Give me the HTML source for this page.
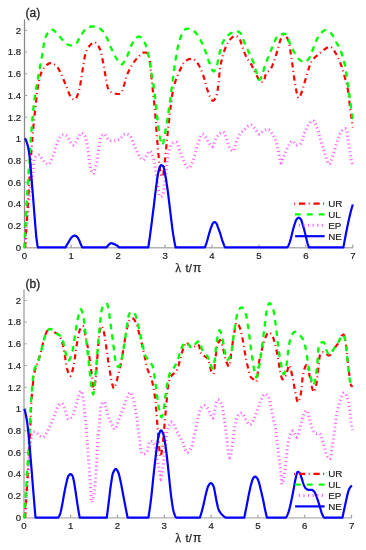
<!DOCTYPE html>
<html><head><meta charset="utf-8"><style>
html,body{margin:0;padding:0;background:#fff;}
body{width:366px;height:550px;overflow:hidden;}
svg{display:block;}
.tk{font-family:"Liberation Sans",Arial,sans-serif;font-size:9.6px;fill:#222;stroke:#222;stroke-width:0.2px;}
.lg{font-family:"Liberation Sans",Arial,sans-serif;font-size:9.8px;fill:#222;stroke:#222;stroke-width:0.2px;}
.xl{font-family:"Liberation Sans",Arial,sans-serif;font-size:11px;fill:#222;stroke:#222;stroke-width:0.25px;}
.gr{font-family:"Liberation Serif","Times New Roman",serif;font-size:12px;}
.pi{font-family:"Liberation Sans",sans-serif;font-size:12px;}
.pl{font-family:"Liberation Sans",Arial,sans-serif;font-size:12px;fill:#222;stroke:#222;stroke-width:0.3px;}
</style></head><body>
<svg width="366" height="550" viewBox="0 0 366 550">
<rect width="366" height="550" fill="#fff"/>
<line x1="24.5" y1="19.4" x2="24.5" y2="247.8" stroke="#8a8a8a" stroke-width="1.3"/>
<line x1="23.9" y1="247.7" x2="353.2" y2="247.7" stroke="#b0b0b0" stroke-width="1.4"/>
<line x1="24.5" y1="247.40" x2="27.3" y2="247.40" stroke="#a0a0a0" stroke-width="1"/>
<text x="21.2" y="250.70" text-anchor="end" class="tk">0</text>
<line x1="24.5" y1="225.70" x2="27.3" y2="225.70" stroke="#a0a0a0" stroke-width="1"/>
<text x="21.2" y="229.00" text-anchor="end" class="tk">0.2</text>
<line x1="24.5" y1="204.00" x2="27.3" y2="204.00" stroke="#a0a0a0" stroke-width="1"/>
<text x="21.2" y="207.30" text-anchor="end" class="tk">0.4</text>
<line x1="24.5" y1="182.30" x2="27.3" y2="182.30" stroke="#a0a0a0" stroke-width="1"/>
<text x="21.2" y="185.60" text-anchor="end" class="tk">0.6</text>
<line x1="24.5" y1="160.60" x2="27.3" y2="160.60" stroke="#a0a0a0" stroke-width="1"/>
<text x="21.2" y="163.90" text-anchor="end" class="tk">0.8</text>
<line x1="24.5" y1="138.90" x2="27.3" y2="138.90" stroke="#a0a0a0" stroke-width="1"/>
<text x="21.2" y="142.20" text-anchor="end" class="tk">1</text>
<line x1="24.5" y1="117.20" x2="27.3" y2="117.20" stroke="#a0a0a0" stroke-width="1"/>
<text x="21.2" y="120.50" text-anchor="end" class="tk">1.2</text>
<line x1="24.5" y1="95.50" x2="27.3" y2="95.50" stroke="#a0a0a0" stroke-width="1"/>
<text x="21.2" y="98.80" text-anchor="end" class="tk">1.4</text>
<line x1="24.5" y1="73.80" x2="27.3" y2="73.80" stroke="#a0a0a0" stroke-width="1"/>
<text x="21.2" y="77.10" text-anchor="end" class="tk">1.6</text>
<line x1="24.5" y1="52.10" x2="27.3" y2="52.10" stroke="#a0a0a0" stroke-width="1"/>
<text x="21.2" y="55.40" text-anchor="end" class="tk">1.8</text>
<line x1="24.5" y1="30.40" x2="27.3" y2="30.40" stroke="#a0a0a0" stroke-width="1"/>
<text x="21.2" y="33.70" text-anchor="end" class="tk">2</text>
<line x1="24.30" y1="247.4" x2="24.30" y2="244.6" stroke="#909090" stroke-width="1"/>
<text x="24.30" y="258.80" text-anchor="middle" class="tk">0</text>
<line x1="71.23" y1="247.4" x2="71.23" y2="244.6" stroke="#909090" stroke-width="1"/>
<text x="71.23" y="258.80" text-anchor="middle" class="tk">1</text>
<line x1="118.16" y1="247.4" x2="118.16" y2="244.6" stroke="#909090" stroke-width="1"/>
<text x="118.16" y="258.80" text-anchor="middle" class="tk">2</text>
<line x1="165.09" y1="247.4" x2="165.09" y2="244.6" stroke="#909090" stroke-width="1"/>
<text x="165.09" y="258.80" text-anchor="middle" class="tk">3</text>
<line x1="212.02" y1="247.4" x2="212.02" y2="244.6" stroke="#909090" stroke-width="1"/>
<text x="212.02" y="258.80" text-anchor="middle" class="tk">4</text>
<line x1="258.95" y1="247.4" x2="258.95" y2="244.6" stroke="#909090" stroke-width="1"/>
<text x="258.95" y="258.80" text-anchor="middle" class="tk">5</text>
<line x1="305.88" y1="247.4" x2="305.88" y2="244.6" stroke="#909090" stroke-width="1"/>
<text x="305.88" y="258.80" text-anchor="middle" class="tk">6</text>
<line x1="352.81" y1="247.4" x2="352.81" y2="244.6" stroke="#909090" stroke-width="1"/>
<text x="352.81" y="258.80" text-anchor="middle" class="tk">7</text>
<path d="M24.80 247.40 L25.13 243.34 L25.46 239.25 L25.78 235.16 L26.11 231.07 L26.44 227.00 L26.77 222.96 L27.13 218.95 L27.50 215.00 L27.87 211.28 L28.25 207.52 L28.65 203.78 L29.05 200.07 L29.46 196.43 L29.87 192.90 L30.29 189.51 L30.70 186.30 L31.03 183.93 L31.38 181.62 L31.73 179.37 L32.08 177.20 L32.42 175.11 L32.75 173.09 L33.04 171.15 L33.30 169.30 L33.44 167.98 L33.54 166.69 L33.62 165.44 L33.69 164.23 L33.77 163.07 L33.89 161.98 L34.06 160.95 L34.30 160.00 L34.51 159.35 L34.74 158.71 L34.99 158.10 L35.26 157.53 L35.55 157.00 L35.87 156.52 L36.22 156.12 L36.60 155.80 L36.95 155.59 L37.34 155.41 L37.76 155.26 L38.19 155.17 L38.62 155.11 L39.05 155.12 L39.44 155.18 L39.80 155.30 L40.18 155.57 L40.51 155.97 L40.82 156.48 L41.10 157.06 L41.37 157.67 L41.66 158.29 L41.96 158.88 L42.30 159.40 L42.67 159.89 L43.06 160.39 L43.45 160.89 L43.86 161.37 L44.28 161.84 L44.71 162.27 L45.15 162.66 L45.60 163.00 L46.00 163.27 L46.42 163.54 L46.85 163.80 L47.29 164.03 L47.73 164.21 L48.14 164.33 L48.54 164.36 L48.90 164.30 L49.27 164.08 L49.61 163.72 L49.92 163.25 L50.21 162.70 L50.49 162.09 L50.76 161.45 L51.02 160.81 L51.30 160.20 L51.64 159.47 L51.96 158.71 L52.28 157.92 L52.60 157.11 L52.91 156.27 L53.21 155.42 L53.51 154.57 L53.80 153.70 L54.11 152.72 L54.40 151.71 L54.68 150.68 L54.96 149.63 L55.24 148.58 L55.54 147.53 L55.85 146.50 L56.20 145.50 L56.56 144.52 L56.93 143.53 L57.32 142.53 L57.72 141.55 L58.13 140.60 L58.57 139.69 L59.02 138.86 L59.50 138.10 L59.88 137.56 L60.27 137.03 L60.67 136.53 L61.08 136.06 L61.50 135.64 L61.93 135.28 L62.36 135.00 L62.80 134.80 L63.15 134.71 L63.52 134.67 L63.89 134.67 L64.26 134.71 L64.64 134.79 L65.00 134.90 L65.36 135.04 L65.70 135.20 L66.09 135.43 L66.46 135.71 L66.82 136.04 L67.18 136.41 L67.52 136.81 L67.86 137.23 L68.18 137.66 L68.50 138.10 L68.85 138.65 L69.17 139.27 L69.46 139.93 L69.75 140.61 L70.04 141.28 L70.34 141.92 L70.66 142.50 L71.00 143.00 L71.28 143.35 L71.57 143.70 L71.87 144.05 L72.18 144.36 L72.49 144.63 L72.80 144.84 L73.10 144.97 L73.40 145.00 L73.72 144.91 L74.04 144.69 L74.36 144.38 L74.68 144.00 L75.00 143.56 L75.31 143.10 L75.61 142.64 L75.90 142.20 L76.24 141.66 L76.56 141.08 L76.88 140.46 L77.18 139.82 L77.48 139.17 L77.78 138.53 L78.09 137.90 L78.40 137.30 L78.69 136.72 L78.96 136.10 L79.23 135.45 L79.51 134.83 L79.79 134.26 L80.10 133.77 L80.43 133.41 L80.80 133.20 L81.17 133.15 L81.58 133.20 L82.01 133.33 L82.46 133.53 L82.91 133.79 L83.34 134.10 L83.74 134.44 L84.10 134.80 L84.54 135.37 L84.92 136.06 L85.26 136.84 L85.57 137.69 L85.85 138.59 L86.11 139.52 L86.35 140.47 L86.60 141.40 L86.87 142.51 L87.11 143.67 L87.32 144.86 L87.50 146.08 L87.68 147.33 L87.85 148.61 L88.02 149.90 L88.20 151.20 L88.40 152.73 L88.57 154.32 L88.73 155.96 L88.89 157.61 L89.06 159.26 L89.26 160.89 L89.50 162.48 L89.80 164.00 L90.12 165.44 L90.48 167.04 L90.87 168.69 L91.29 170.28 L91.72 171.70 L92.15 172.85 L92.58 173.62 L93.00 173.90 L93.43 173.61 L93.87 172.81 L94.33 171.62 L94.78 170.14 L95.22 168.49 L95.64 166.78 L96.04 165.11 L96.40 163.60 L96.76 162.00 L97.07 160.33 L97.34 158.63 L97.60 156.89 L97.84 155.15 L98.08 153.41 L98.33 151.69 L98.60 150.00 L98.85 148.35 L99.07 146.63 L99.27 144.89 L99.49 143.18 L99.74 141.53 L100.04 140.01 L100.42 138.65 L100.90 137.50 L101.25 136.87 L101.65 136.25 L102.08 135.67 L102.52 135.14 L102.98 134.70 L103.43 134.36 L103.88 134.16 L104.30 134.10 L104.73 134.27 L105.16 134.67 L105.57 135.25 L105.98 135.94 L106.39 136.68 L106.81 137.41 L107.25 138.07 L107.70 138.60 L108.10 138.97 L108.50 139.34 L108.90 139.68 L109.31 140.00 L109.74 140.29 L110.18 140.54 L110.63 140.75 L111.10 140.90 L111.63 141.00 L112.18 141.04 L112.76 141.03 L113.35 140.97 L113.95 140.88 L114.54 140.77 L115.13 140.64 L115.70 140.50 L116.28 140.35 L116.85 140.18 L117.42 139.98 L117.99 139.76 L118.56 139.52 L119.11 139.24 L119.66 138.94 L120.20 138.60 L120.80 138.11 L121.37 137.50 L121.94 136.82 L122.49 136.11 L123.05 135.44 L123.61 134.84 L124.19 134.38 L124.80 134.10 L125.34 133.99 L125.91 133.96 L126.50 134.00 L127.09 134.11 L127.67 134.29 L128.24 134.53 L128.79 134.84 L129.30 135.20 L130.00 135.91 L130.63 136.83 L131.22 137.93 L131.77 139.15 L132.31 140.45 L132.83 141.77 L133.36 143.07 L133.90 144.30 L134.47 145.57 L135.02 146.88 L135.55 148.23 L136.09 149.57 L136.63 150.90 L137.19 152.18 L137.78 153.39 L138.40 154.50 L138.94 155.40 L139.51 156.36 L140.10 157.31 L140.69 158.21 L141.29 159.01 L141.88 159.64 L142.46 160.06 L143.00 160.20 L143.45 160.06 L143.89 159.70 L144.32 159.17 L144.74 158.51 L145.15 157.78 L145.57 157.04 L145.98 156.33 L146.40 155.70 L146.83 155.06 L147.26 154.33 L147.69 153.55 L148.12 152.80 L148.55 152.12 L148.97 151.57 L149.39 151.21 L149.80 151.10 L150.28 151.31 L150.76 151.84 L151.25 152.61 L151.72 153.57 L152.18 154.65 L152.62 155.79 L153.03 156.93 L153.40 158.00 L153.81 159.35 L154.16 160.80 L154.46 162.32 L154.73 163.90 L154.97 165.52 L155.20 167.17 L155.44 168.84 L155.70 170.50 L156.00 172.42 L156.29 174.42 L156.56 176.48 L156.84 178.55 L157.12 180.61 L157.40 182.63 L157.69 184.57 L158.00 186.40 L158.24 187.90 L158.45 189.50 L158.66 191.13 L158.88 192.69 L159.12 194.10 L159.41 195.27 L159.77 196.14 L160.20 196.60 L160.45 196.68 L160.74 196.68 L161.04 196.61 L161.35 196.48 L161.66 196.30 L161.96 196.07 L162.24 195.80 L162.50 195.50 L163.00 194.55 L163.39 193.22 L163.69 191.59 L163.94 189.75 L164.15 187.77 L164.35 185.73 L164.56 183.71 L164.80 181.80 L165.09 179.63 L165.37 177.37 L165.64 175.05 L165.90 172.70 L166.16 170.34 L166.43 168.02 L166.71 165.76 L167.00 163.60 L167.25 161.77 L167.49 159.94 L167.72 158.13 L167.96 156.35 L168.23 154.64 L168.53 152.99 L168.88 151.44 L169.30 150.00 L169.64 148.97 L170.01 147.96 L170.39 146.98 L170.80 146.05 L171.23 145.19 L171.69 144.41 L172.18 143.74 L172.70 143.20 L173.09 142.88 L173.51 142.58 L173.95 142.32 L174.41 142.11 L174.86 141.96 L175.30 141.88 L175.71 141.89 L176.10 142.00 L176.64 142.42 L177.11 143.14 L177.55 144.10 L177.95 145.21 L178.33 146.43 L178.71 147.68 L179.10 148.89 L179.50 150.00 L179.94 151.12 L180.37 152.26 L180.80 153.43 L181.23 154.60 L181.66 155.77 L182.10 156.91 L182.55 158.03 L183.00 159.10 L183.41 160.03 L183.83 160.97 L184.25 161.91 L184.68 162.82 L185.11 163.69 L185.54 164.50 L185.97 165.25 L186.40 165.90 L186.67 166.30 L186.94 166.71 L187.21 167.10 L187.48 167.46 L187.75 167.77 L188.03 168.01 L188.31 168.16 L188.60 168.20 L189.01 168.06 L189.43 167.73 L189.87 167.24 L190.32 166.62 L190.76 165.91 L191.19 165.14 L191.61 164.36 L192.00 163.60 L192.52 162.45 L192.99 161.17 L193.44 159.77 L193.86 158.30 L194.27 156.79 L194.67 155.26 L195.08 153.75 L195.50 152.30 L195.92 150.86 L196.34 149.38 L196.74 147.89 L197.15 146.40 L197.56 144.94 L197.99 143.53 L198.43 142.17 L198.90 140.90 L199.29 139.87 L199.68 138.77 L200.09 137.66 L200.50 136.60 L200.93 135.66 L201.37 134.88 L201.82 134.35 L202.30 134.10 L202.70 134.14 L203.12 134.37 L203.55 134.74 L203.99 135.23 L204.43 135.78 L204.87 136.37 L205.29 136.96 L205.70 137.50 L206.15 138.14 L206.58 138.84 L206.99 139.58 L207.40 140.35 L207.81 141.12 L208.22 141.86 L208.65 142.56 L209.10 143.20 L209.51 143.74 L209.93 144.33 L210.37 144.92 L210.82 145.48 L211.26 145.97 L211.69 146.34 L212.11 146.57 L212.50 146.60 L212.98 146.27 L213.42 145.55 L213.83 144.54 L214.23 143.33 L214.62 142.04 L215.02 140.75 L215.44 139.57 L215.90 138.60 L216.29 137.94 L216.69 137.31 L217.09 136.70 L217.51 136.12 L217.94 135.56 L218.38 135.04 L218.83 134.55 L219.30 134.10 L219.74 133.69 L220.20 133.27 L220.68 132.84 L221.17 132.45 L221.65 132.12 L222.13 131.89 L222.58 131.77 L223.00 131.80 L223.51 132.11 L223.98 132.69 L224.42 133.48 L224.83 134.43 L225.23 135.47 L225.62 136.55 L226.00 137.62 L226.40 138.60 L226.84 139.70 L227.24 140.89 L227.64 142.12 L228.02 143.37 L228.42 144.59 L228.84 145.74 L229.30 146.79 L229.80 147.70 L230.19 148.30 L230.61 148.92 L231.05 149.52 L231.50 150.07 L231.95 150.53 L232.39 150.88 L232.81 151.08 L233.20 151.10 L233.72 150.69 L234.18 149.78 L234.59 148.52 L234.98 147.00 L235.36 145.36 L235.75 143.72 L236.16 142.19 L236.60 140.90 L236.99 139.96 L237.38 139.04 L237.77 138.15 L238.17 137.28 L238.59 136.44 L239.03 135.63 L239.50 134.85 L240.00 134.10 L240.49 133.45 L241.01 132.83 L241.55 132.25 L242.11 131.68 L242.68 131.14 L243.28 130.59 L243.88 130.05 L244.50 129.50 L245.20 128.83 L245.94 128.08 L246.71 127.29 L247.49 126.53 L248.28 125.85 L249.05 125.29 L249.79 124.93 L250.50 124.80 L251.08 124.90 L251.64 125.17 L252.18 125.58 L252.72 126.08 L253.25 126.64 L253.77 127.24 L254.28 127.84 L254.80 128.40 L255.38 129.10 L255.94 129.94 L256.49 130.86 L257.03 131.77 L257.58 132.63 L258.13 133.35 L258.71 133.86 L259.30 134.10 L259.84 134.04 L260.40 133.76 L260.97 133.31 L261.54 132.76 L262.12 132.17 L262.71 131.58 L263.30 131.08 L263.90 130.70 L264.45 130.43 L265.02 130.16 L265.60 129.90 L266.18 129.67 L266.75 129.50 L267.32 129.40 L267.87 129.39 L268.40 129.50 L269.04 129.82 L269.66 130.32 L270.27 130.98 L270.86 131.75 L271.43 132.59 L271.98 133.48 L272.50 134.36 L273.00 135.20 L273.51 136.11 L274.00 137.05 L274.45 138.03 L274.88 139.04 L275.29 140.06 L275.68 141.10 L276.05 142.15 L276.40 143.20 L276.74 144.29 L277.04 145.40 L277.32 146.52 L277.58 147.65 L277.83 148.80 L278.08 149.95 L278.33 151.12 L278.60 152.30 L278.89 153.74 L279.17 155.40 L279.44 157.17 L279.72 158.90 L280.00 160.48 L280.31 161.77 L280.64 162.66 L281.00 163.00 L281.34 162.81 L281.69 162.23 L282.07 161.35 L282.45 160.26 L282.85 159.04 L283.26 157.78 L283.68 156.58 L284.10 155.50 L284.57 154.38 L285.05 153.22 L285.54 152.03 L286.05 150.83 L286.56 149.64 L287.09 148.50 L287.64 147.41 L288.20 146.40 L288.68 145.56 L289.17 144.68 L289.67 143.79 L290.19 142.95 L290.71 142.20 L291.23 141.59 L291.77 141.18 L292.30 141.00 L292.79 141.13 L293.29 141.53 L293.78 142.13 L294.29 142.83 L294.80 143.55 L295.32 144.21 L295.85 144.72 L296.40 145.00 L296.90 145.08 L297.42 145.08 L297.95 145.01 L298.49 144.88 L299.03 144.68 L299.55 144.41 L300.04 144.09 L300.50 143.70 L301.17 142.85 L301.74 141.70 L302.25 140.33 L302.72 138.82 L303.17 137.24 L303.61 135.66 L304.08 134.15 L304.60 132.80 L305.08 131.69 L305.57 130.57 L306.05 129.47 L306.55 128.40 L307.06 127.37 L307.58 126.38 L308.13 125.45 L308.70 124.60 L309.18 123.92 L309.69 123.21 L310.21 122.50 L310.74 121.85 L311.27 121.27 L311.80 120.83 L312.31 120.56 L312.80 120.50 L313.35 120.73 L313.90 121.25 L314.43 122.01 L314.95 122.94 L315.46 123.99 L315.96 125.10 L316.44 126.23 L316.90 127.30 L317.49 128.76 L318.04 130.36 L318.55 132.06 L319.05 133.83 L319.53 135.64 L320.01 137.46 L320.50 139.25 L321.00 141.00 L321.51 142.72 L322.01 144.46 L322.51 146.22 L323.01 147.96 L323.52 149.69 L324.03 151.38 L324.56 153.02 L325.10 154.60 L325.58 156.02 L326.07 157.58 L326.56 159.18 L327.07 160.72 L327.57 162.09 L328.08 163.19 L328.59 163.93 L329.10 164.20 L329.61 163.93 L330.13 163.20 L330.65 162.09 L331.18 160.72 L331.70 159.18 L332.21 157.58 L332.71 156.02 L333.20 154.60 L333.74 153.01 L334.26 151.32 L334.76 149.58 L335.25 147.80 L335.74 146.02 L336.24 144.28 L336.76 142.59 L337.30 141.00 L337.77 139.66 L338.23 138.31 L338.70 136.97 L339.18 135.66 L339.68 134.42 L340.21 133.28 L340.78 132.27 L341.40 131.40 L341.87 130.86 L342.39 130.32 L342.94 129.81 L343.50 129.35 L344.05 128.99 L344.58 128.74 L345.07 128.63 L345.50 128.70 L346.08 129.25 L346.54 130.32 L346.92 131.78 L347.24 133.53 L347.51 135.44 L347.76 137.40 L348.02 139.29 L348.30 141.00 L348.60 142.67 L348.88 144.38 L349.13 146.11 L349.38 147.85 L349.62 149.58 L349.87 151.29 L350.13 152.97 L350.40 154.60 L350.66 156.02 L350.93 157.41 L351.20 158.78 L351.48 160.13 L351.76 161.47 L352.04 162.80 L352.32 164.15 L352.60 165.50" fill="none" stroke="#ff62ff" stroke-width="3.0" stroke-dasharray="1.1 2.85"/>
<path d="M25.10 247.40 L25.49 241.31 L25.88 235.16 L26.28 229.00 L26.67 222.84 L27.06 216.73 L27.45 210.69 L27.83 204.77 L28.20 199.00 L28.52 193.99 L28.84 189.05 L29.15 184.18 L29.46 179.38 L29.77 174.65 L30.07 169.99 L30.38 165.41 L30.70 160.90 L30.98 156.97 L31.26 153.12 L31.53 149.33 L31.81 145.59 L32.09 141.90 L32.38 138.24 L32.68 134.61 L33.00 131.00 L33.31 127.65 L33.62 124.33 L33.95 121.05 L34.28 117.79 L34.62 114.55 L34.97 111.35 L35.33 108.16 L35.70 105.00 L36.04 102.00 L36.37 98.95 L36.70 95.91 L37.04 92.91 L37.41 89.97 L37.82 87.13 L38.27 84.43 L38.80 81.90 L39.22 80.09 L39.63 78.32 L40.05 76.62 L40.50 74.98 L41.01 73.42 L41.58 71.95 L42.24 70.57 L43.00 69.30 L43.75 68.25 L44.58 67.21 L45.48 66.21 L46.43 65.28 L47.41 64.47 L48.39 63.81 L49.36 63.34 L50.30 63.10 L51.10 63.09 L51.92 63.24 L52.74 63.52 L53.56 63.91 L54.37 64.40 L55.16 64.96 L55.90 65.57 L56.60 66.20 L57.39 67.07 L58.11 68.08 L58.78 69.20 L59.41 70.41 L60.02 71.68 L60.60 72.99 L61.20 74.30 L61.80 75.60 L62.49 77.08 L63.16 78.62 L63.82 80.22 L64.47 81.84 L65.11 83.46 L65.74 85.06 L66.37 86.61 L67.00 88.10 L67.53 89.39 L68.03 90.72 L68.52 92.05 L69.02 93.35 L69.52 94.58 L70.04 95.71 L70.60 96.69 L71.20 97.50 L71.61 97.94 L72.04 98.37 L72.49 98.77 L72.95 99.11 L73.41 99.38 L73.86 99.56 L74.29 99.64 L74.70 99.60 L75.25 99.30 L75.77 98.73 L76.27 97.95 L76.75 97.00 L77.21 95.91 L77.65 94.74 L78.08 93.52 L78.50 92.30 L79.16 90.04 L79.76 87.41 L80.30 84.50 L80.81 81.41 L81.29 78.25 L81.76 75.11 L82.22 72.09 L82.70 69.30 L83.09 67.03 L83.45 64.74 L83.78 62.47 L84.12 60.25 L84.47 58.12 L84.85 56.12 L85.29 54.26 L85.80 52.60 L86.16 51.63 L86.53 50.72 L86.91 49.88 L87.30 49.10 L87.73 48.35 L88.18 47.65 L88.67 46.96 L89.20 46.30 L89.76 45.63 L90.38 44.92 L91.03 44.22 L91.71 43.55 L92.40 42.98 L93.09 42.53 L93.76 42.26 L94.40 42.20 L95.09 42.41 L95.80 42.88 L96.50 43.55 L97.18 44.39 L97.85 45.34 L98.48 46.35 L99.07 47.39 L99.60 48.40 L100.18 49.71 L100.68 51.13 L101.10 52.65 L101.47 54.25 L101.80 55.90 L102.12 57.59 L102.45 59.30 L102.80 61.00 L103.21 62.99 L103.61 65.06 L103.98 67.19 L104.36 69.35 L104.73 71.51 L105.10 73.64 L105.49 75.72 L105.90 77.70 L106.23 79.42 L106.52 81.18 L106.80 82.94 L107.09 84.65 L107.43 86.28 L107.84 87.77 L108.35 89.10 L109.00 90.20 L109.53 90.84 L110.12 91.39 L110.76 91.87 L111.43 92.28 L112.13 92.63 L112.85 92.93 L113.58 93.18 L114.30 93.40 L115.05 93.59 L115.86 93.77 L116.70 93.90 L117.54 93.98 L118.37 93.98 L119.15 93.90 L119.87 93.71 L120.50 93.40 L121.10 92.86 L121.60 92.14 L122.02 91.27 L122.39 90.28 L122.72 89.23 L123.03 88.14 L123.35 87.05 L123.70 86.00 L124.11 84.79 L124.48 83.53 L124.83 82.23 L125.17 80.90 L125.53 79.56 L125.91 78.23 L126.33 76.90 L126.80 75.60 L127.34 74.26 L127.92 72.91 L128.54 71.56 L129.18 70.22 L129.85 68.90 L130.55 67.59 L131.26 66.33 L132.00 65.10 L132.72 63.96 L133.47 62.84 L134.25 61.72 L135.05 60.64 L135.86 59.60 L136.68 58.60 L137.49 57.66 L138.30 56.80 L138.94 56.13 L139.59 55.45 L140.24 54.79 L140.89 54.18 L141.54 53.63 L142.20 53.17 L142.85 52.82 L143.50 52.60 L144.04 52.51 L144.59 52.48 L145.15 52.50 L145.71 52.59 L146.25 52.74 L146.77 52.98 L147.26 53.30 L147.70 53.70 L148.44 54.92 L149.01 56.65 L149.45 58.80 L149.78 61.22 L150.04 63.81 L150.28 66.45 L150.52 69.02 L150.80 71.40 L151.11 73.72 L151.39 76.07 L151.65 78.45 L151.89 80.83 L152.12 83.19 L152.35 85.52 L152.57 87.80 L152.80 90.00 L153.00 91.84 L153.19 93.62 L153.39 95.35 L153.58 97.06 L153.76 98.77 L153.94 100.48 L154.12 102.22 L154.30 104.00 L154.49 105.94 L154.67 107.88 L154.84 109.84 L155.02 111.82 L155.19 113.82 L155.36 115.85 L155.53 117.91 L155.70 120.00 L155.89 122.39 L156.07 124.84 L156.25 127.34 L156.44 129.86 L156.62 132.40 L156.81 134.95 L157.00 137.49 L157.20 140.00 L157.41 142.52 L157.62 145.07 L157.83 147.63 L158.05 150.18 L158.27 152.71 L158.51 155.21 L158.75 157.64 L159.00 160.00 L159.21 162.08 L159.42 164.24 L159.61 166.42 L159.82 168.53 L160.06 170.52 L160.32 172.31 L160.63 173.83 L161.00 175.00 L161.17 175.39 L161.36 175.77 L161.56 176.13 L161.76 176.44 L161.96 176.69 L162.15 176.88 L162.33 176.99 L162.50 177.00 L162.77 176.69 L163.01 175.97 L163.20 174.93 L163.38 173.66 L163.53 172.24 L163.68 170.76 L163.84 169.32 L164.00 168.00 L164.20 166.52 L164.39 165.02 L164.57 163.49 L164.75 161.92 L164.93 160.29 L165.11 158.60 L165.30 156.84 L165.50 155.00 L165.79 152.26 L166.08 149.32 L166.38 146.22 L166.70 143.01 L167.01 139.74 L167.34 136.45 L167.67 133.18 L168.00 130.00 L168.34 126.83 L168.68 123.62 L169.03 120.39 L169.38 117.17 L169.74 113.98 L170.11 110.84 L170.50 107.77 L170.90 104.80 L171.24 102.30 L171.57 99.84 L171.89 97.42 L172.23 95.05 L172.60 92.72 L173.01 90.44 L173.47 88.20 L174.00 86.00 L174.54 84.05 L175.12 82.12 L175.73 80.23 L176.39 78.37 L177.07 76.56 L177.79 74.79 L178.53 73.07 L179.30 71.40 L179.98 69.93 L180.67 68.43 L181.37 66.95 L182.10 65.51 L182.87 64.16 L183.68 62.94 L184.55 61.87 L185.50 61.00 L186.32 60.43 L187.22 59.92 L188.17 59.49 L189.14 59.15 L190.11 58.91 L191.06 58.78 L191.97 58.77 L192.80 58.90 L193.56 59.18 L194.29 59.62 L194.98 60.18 L195.64 60.85 L196.28 61.60 L196.90 62.41 L197.51 63.25 L198.10 64.10 L198.85 65.27 L199.57 66.56 L200.25 67.95 L200.90 69.41 L201.53 70.93 L202.14 72.48 L202.73 74.04 L203.30 75.60 L203.89 77.34 L204.42 79.17 L204.91 81.05 L205.38 82.95 L205.86 84.84 L206.36 86.70 L206.90 88.50 L207.50 90.20 L208.08 91.75 L208.71 93.43 L209.36 95.15 L210.03 96.80 L210.70 98.28 L211.38 99.49 L212.05 100.33 L212.70 100.70 L213.10 100.68 L213.51 100.50 L213.92 100.18 L214.33 99.76 L214.72 99.26 L215.11 98.70 L215.47 98.11 L215.80 97.50 L216.31 96.30 L216.75 94.87 L217.12 93.24 L217.44 91.48 L217.72 89.62 L217.98 87.72 L218.24 85.83 L218.50 84.00 L218.76 81.99 L218.96 79.93 L219.13 77.83 L219.28 75.71 L219.44 73.57 L219.63 71.43 L219.88 69.30 L220.20 67.20 L220.59 65.07 L221.02 62.90 L221.49 60.72 L222.00 58.56 L222.54 56.43 L223.13 54.36 L223.75 52.37 L224.40 50.50 L224.96 49.02 L225.54 47.56 L226.15 46.14 L226.78 44.77 L227.44 43.46 L228.13 42.24 L228.85 41.11 L229.60 40.10 L230.20 39.37 L230.83 38.66 L231.48 37.97 L232.15 37.35 L232.82 36.80 L233.49 36.36 L234.15 36.05 L234.80 35.90 L235.34 35.89 L235.90 35.99 L236.45 36.17 L237.01 36.42 L237.55 36.74 L238.06 37.12 L238.55 37.54 L239.00 38.00 L239.54 38.73 L240.00 39.61 L240.40 40.61 L240.76 41.70 L241.10 42.84 L241.44 44.01 L241.80 45.17 L242.20 46.30 L242.68 47.57 L243.15 48.88 L243.63 50.22 L244.12 51.58 L244.62 52.93 L245.15 54.26 L245.71 55.56 L246.30 56.80 L246.90 57.91 L247.55 58.97 L248.23 60.01 L248.93 61.02 L249.63 62.03 L250.32 63.04 L250.98 64.06 L251.60 65.10 L252.16 66.14 L252.69 67.20 L253.20 68.26 L253.69 69.33 L254.18 70.39 L254.68 71.44 L255.18 72.48 L255.70 73.50 L256.20 74.49 L256.70 75.53 L257.21 76.58 L257.72 77.62 L258.24 78.59 L258.77 79.47 L259.32 80.22 L259.90 80.80 L260.29 81.10 L260.69 81.38 L261.11 81.62 L261.54 81.82 L261.95 81.96 L262.36 82.02 L262.74 82.01 L263.10 81.90 L263.60 81.43 L264.01 80.60 L264.35 79.52 L264.67 78.27 L264.99 76.94 L265.33 75.64 L265.72 74.47 L266.20 73.50 L266.66 72.88 L267.17 72.34 L267.71 71.86 L268.26 71.41 L268.83 70.96 L269.38 70.47 L269.91 69.93 L270.40 69.30 L271.00 68.34 L271.56 67.28 L272.10 66.13 L272.61 64.92 L273.10 63.67 L273.58 62.40 L274.05 61.14 L274.50 59.90 L274.95 58.64 L275.38 57.35 L275.78 56.06 L276.17 54.75 L276.55 53.44 L276.93 52.12 L277.31 50.81 L277.70 49.50 L278.09 48.16 L278.46 46.76 L278.82 45.34 L279.19 43.93 L279.56 42.57 L279.95 41.27 L280.36 40.07 L280.80 39.00 L281.11 38.31 L281.41 37.61 L281.73 36.92 L282.05 36.27 L282.39 35.71 L282.74 35.25 L283.11 34.94 L283.50 34.80 L283.97 34.86 L284.50 35.11 L285.05 35.53 L285.62 36.08 L286.19 36.73 L286.74 37.45 L287.25 38.22 L287.70 39.00 L288.32 40.41 L288.84 42.08 L289.27 43.96 L289.64 45.99 L289.97 48.09 L290.27 50.22 L290.58 52.31 L290.90 54.30 L291.22 56.21 L291.52 58.12 L291.80 60.03 L292.06 61.94 L292.32 63.86 L292.57 65.77 L292.83 67.68 L293.10 69.60 L293.37 71.53 L293.62 73.48 L293.86 75.43 L294.11 77.38 L294.37 79.32 L294.65 81.25 L294.96 83.14 L295.30 85.00 L295.65 86.87 L296.01 88.95 L296.39 91.11 L296.79 93.21 L297.21 95.10 L297.65 96.63 L298.12 97.68 L298.60 98.10 L298.98 97.95 L299.39 97.47 L299.81 96.72 L300.24 95.79 L300.68 94.73 L301.10 93.61 L301.51 92.51 L301.90 91.50 L302.35 90.28 L302.77 88.99 L303.17 87.63 L303.56 86.24 L303.94 84.82 L304.32 83.40 L304.70 81.98 L305.10 80.60 L305.51 79.22 L305.91 77.82 L306.31 76.42 L306.72 75.01 L307.13 73.62 L307.55 72.25 L307.97 70.91 L308.40 69.60 L308.78 68.44 L309.14 67.28 L309.49 66.13 L309.85 65.00 L310.24 63.91 L310.67 62.85 L311.15 61.85 L311.70 60.90 L312.27 60.10 L312.89 59.35 L313.56 58.65 L314.26 57.98 L314.98 57.34 L315.72 56.70 L316.46 56.06 L317.20 55.40 L317.97 54.70 L318.76 53.98 L319.55 53.27 L320.36 52.56 L321.19 51.87 L322.02 51.21 L322.85 50.58 L323.70 50.00 L324.51 49.44 L325.35 48.84 L326.20 48.24 L327.06 47.68 L327.91 47.20 L328.74 46.85 L329.54 46.67 L330.30 46.70 L331.06 47.00 L331.79 47.53 L332.49 48.26 L333.16 49.13 L333.82 50.10 L334.45 51.14 L335.08 52.18 L335.70 53.20 L336.47 54.50 L337.22 55.92 L337.95 57.43 L338.66 59.00 L339.35 60.59 L340.00 62.20 L340.62 63.77 L341.20 65.30 L341.70 66.67 L342.15 68.02 L342.57 69.36 L342.97 70.70 L343.36 72.05 L343.73 73.41 L344.11 74.79 L344.50 76.20 L344.94 77.76 L345.38 79.34 L345.82 80.93 L346.25 82.54 L346.67 84.18 L347.07 85.85 L347.45 87.55 L347.80 89.30 L348.15 91.35 L348.46 93.45 L348.73 95.60 L348.98 97.79 L349.22 100.01 L349.46 102.26 L349.72 104.52 L350.00 106.80 L350.33 109.30 L350.67 111.85 L351.02 114.44 L351.37 117.04 L351.73 119.66 L352.09 122.28 L352.45 124.90 L352.80 127.50" fill="none" stroke="#ff0000" stroke-width="2.2" stroke-dasharray="5.2 3.4 1.0 3.6"/>
<path d="M24.40 247.40 L24.71 241.31 L25.01 235.16 L25.32 228.99 L25.62 222.84 L25.93 216.72 L26.24 210.69 L26.57 204.77 L26.90 199.00 L27.21 193.99 L27.53 189.06 L27.87 184.20 L28.20 179.42 L28.54 174.69 L28.87 170.04 L29.19 165.44 L29.50 160.90 L29.76 156.88 L30.00 152.95 L30.23 149.08 L30.45 145.26 L30.69 141.46 L30.93 137.66 L31.20 133.85 L31.50 130.00 L31.82 126.06 L32.16 122.08 L32.51 118.08 L32.88 114.09 L33.27 110.12 L33.68 106.20 L34.13 102.35 L34.60 98.60 L35.06 95.29 L35.57 92.00 L36.10 88.75 L36.64 85.55 L37.20 82.41 L37.75 79.35 L38.29 76.37 L38.80 73.50 L39.20 71.26 L39.58 69.13 L39.96 67.07 L40.33 65.05 L40.71 63.05 L41.09 61.02 L41.49 58.95 L41.90 56.80 L42.35 54.21 L42.77 51.43 L43.19 48.55 L43.63 45.67 L44.11 42.87 L44.67 40.25 L45.32 37.89 L46.10 35.90 L46.65 34.80 L47.24 33.72 L47.86 32.70 L48.52 31.77 L49.19 30.96 L49.89 30.31 L50.59 29.84 L51.30 29.60 L51.93 29.60 L52.59 29.78 L53.27 30.12 L53.95 30.57 L54.63 31.09 L55.31 31.66 L55.97 32.25 L56.60 32.80 L57.30 33.45 L57.97 34.19 L58.64 34.98 L59.28 35.80 L59.92 36.64 L60.55 37.46 L61.18 38.26 L61.80 39.00 L62.34 39.62 L62.86 40.24 L63.37 40.86 L63.88 41.46 L64.39 42.04 L64.91 42.58 L65.45 43.07 L66.00 43.50 L66.48 43.83 L66.98 44.14 L67.47 44.43 L67.98 44.68 L68.49 44.90 L69.01 45.08 L69.55 45.21 L70.10 45.30 L70.73 45.35 L71.40 45.37 L72.08 45.35 L72.78 45.27 L73.47 45.14 L74.14 44.93 L74.79 44.66 L75.40 44.30 L76.15 43.63 L76.84 42.76 L77.47 41.72 L78.08 40.57 L78.67 39.36 L79.28 38.15 L79.92 36.98 L80.60 35.90 L81.32 34.84 L82.06 33.73 L82.80 32.60 L83.57 31.50 L84.35 30.45 L85.17 29.49 L86.02 28.66 L86.90 28.00 L87.65 27.58 L88.43 27.22 L89.24 26.95 L90.06 26.73 L90.89 26.59 L91.73 26.50 L92.57 26.47 L93.40 26.50 L94.31 26.60 L95.26 26.77 L96.22 27.02 L97.17 27.34 L98.12 27.72 L99.03 28.16 L99.89 28.66 L100.70 29.20 L101.47 29.82 L102.19 30.52 L102.85 31.28 L103.49 32.09 L104.10 32.97 L104.69 33.90 L105.29 34.88 L105.90 35.90 L106.73 37.45 L107.54 39.19 L108.33 41.07 L109.11 43.03 L109.88 45.00 L110.65 46.95 L111.42 48.80 L112.20 50.50 L112.85 51.81 L113.49 53.10 L114.13 54.36 L114.78 55.59 L115.42 56.76 L116.07 57.87 L116.73 58.92 L117.40 59.90 L117.91 60.65 L118.43 61.44 L118.96 62.22 L119.48 62.95 L120.01 63.59 L120.54 64.09 L121.07 64.41 L121.60 64.50 L122.25 64.26 L122.90 63.68 L123.56 62.82 L124.22 61.75 L124.87 60.55 L125.52 59.28 L126.17 58.01 L126.80 56.80 L127.60 55.17 L128.37 53.33 L129.11 51.36 L129.85 49.34 L130.61 47.33 L131.39 45.43 L132.22 43.69 L133.10 42.20 L133.77 41.22 L134.48 40.23 L135.20 39.27 L135.94 38.38 L136.69 37.62 L137.44 37.02 L138.17 36.64 L138.90 36.50 L139.62 36.64 L140.36 37.03 L141.11 37.63 L141.84 38.39 L142.56 39.26 L143.25 40.22 L143.90 41.21 L144.50 42.20 L145.23 43.64 L145.87 45.25 L146.43 47.01 L146.93 48.88 L147.40 50.83 L147.83 52.82 L148.26 54.82 L148.70 56.80 L149.18 59.04 L149.63 61.38 L150.04 63.77 L150.44 66.19 L150.81 68.62 L151.18 71.01 L151.54 73.35 L151.90 75.60 L152.21 77.48 L152.52 79.29 L152.82 81.05 L153.11 82.79 L153.39 84.53 L153.67 86.30 L153.94 88.12 L154.20 90.00 L154.49 92.25 L154.76 94.56 L155.02 96.93 L155.28 99.33 L155.53 101.76 L155.78 104.19 L156.04 106.61 L156.30 109.00 L156.57 111.41 L156.83 113.85 L157.10 116.32 L157.37 118.78 L157.65 121.20 L157.92 123.56 L158.21 125.84 L158.50 128.00 L158.73 129.67 L158.96 131.32 L159.20 132.94 L159.43 134.51 L159.68 136.01 L159.93 137.44 L160.21 138.77 L160.50 140.00 L160.71 140.81 L160.93 141.65 L161.15 142.49 L161.39 143.28 L161.62 143.97 L161.85 144.52 L162.08 144.88 L162.30 145.00 L162.55 144.80 L162.80 144.27 L163.04 143.48 L163.28 142.49 L163.52 141.38 L163.75 140.21 L163.98 139.06 L164.20 138.00 L164.47 136.66 L164.73 135.25 L164.98 133.78 L165.22 132.26 L165.46 130.71 L165.70 129.14 L165.95 127.57 L166.20 126.00 L166.48 124.30 L166.77 122.58 L167.06 120.83 L167.36 119.07 L167.65 117.30 L167.94 115.53 L168.23 113.76 L168.50 112.00 L168.76 110.27 L169.02 108.56 L169.27 106.87 L169.51 105.16 L169.76 103.44 L170.00 101.68 L170.25 99.88 L170.50 98.00 L170.80 95.65 L171.10 93.20 L171.41 90.68 L171.71 88.10 L172.02 85.50 L172.33 82.88 L172.66 80.28 L173.00 77.70 L173.35 75.09 L173.70 72.46 L174.06 69.83 L174.43 67.19 L174.82 64.56 L175.22 61.94 L175.65 59.36 L176.10 56.80 L176.54 54.34 L176.99 51.84 L177.44 49.33 L177.91 46.84 L178.42 44.43 L178.98 42.13 L179.60 39.97 L180.30 38.00 L180.84 36.63 L181.40 35.27 L181.98 33.94 L182.59 32.69 L183.24 31.56 L183.94 30.57 L184.69 29.77 L185.50 29.20 L186.20 28.91 L186.96 28.74 L187.76 28.68 L188.59 28.72 L189.42 28.84 L190.24 29.03 L191.04 29.29 L191.80 29.60 L192.66 30.06 L193.49 30.65 L194.31 31.36 L195.11 32.15 L195.88 33.02 L196.64 33.95 L197.38 34.91 L198.10 35.90 L198.97 37.21 L199.81 38.63 L200.62 40.15 L201.39 41.75 L202.15 43.39 L202.88 45.06 L203.60 46.74 L204.30 48.40 L205.01 50.18 L205.69 52.05 L206.34 53.96 L206.97 55.88 L207.59 57.77 L208.22 59.62 L208.85 61.37 L209.50 63.00 L210.02 64.29 L210.55 65.68 L211.09 67.08 L211.63 68.41 L212.16 69.59 L212.69 70.54 L213.20 71.17 L213.70 71.40 L214.13 71.23 L214.55 70.77 L214.97 70.07 L215.39 69.19 L215.79 68.20 L216.18 67.14 L216.55 66.09 L216.90 65.10 L217.31 63.79 L217.67 62.37 L217.99 60.87 L218.29 59.30 L218.59 57.71 L218.89 56.11 L219.22 54.53 L219.60 53.00 L220.00 51.47 L220.41 49.90 L220.82 48.32 L221.25 46.75 L221.71 45.22 L222.22 43.75 L222.78 42.37 L223.40 41.10 L223.94 40.15 L224.52 39.25 L225.12 38.40 L225.75 37.59 L226.41 36.83 L227.11 36.11 L227.83 35.43 L228.60 34.80 L229.42 34.19 L230.32 33.58 L231.27 33.01 L232.24 32.48 L233.21 32.03 L234.16 31.66 L235.06 31.42 L235.90 31.30 L236.48 31.29 L237.05 31.34 L237.60 31.44 L238.14 31.60 L238.65 31.81 L239.15 32.08 L239.64 32.41 L240.10 32.80 L240.75 33.56 L241.32 34.52 L241.85 35.65 L242.33 36.90 L242.81 38.23 L243.28 39.58 L243.77 40.92 L244.30 42.20 L244.93 43.59 L245.57 45.02 L246.23 46.48 L246.90 47.95 L247.57 49.42 L248.23 50.88 L248.87 52.31 L249.50 53.70 L250.06 54.91 L250.61 56.10 L251.16 57.26 L251.70 58.41 L252.23 59.56 L252.74 60.72 L253.23 61.90 L253.70 63.10 L254.15 64.38 L254.56 65.71 L254.95 67.06 L255.32 68.42 L255.69 69.77 L256.05 71.07 L256.42 72.32 L256.80 73.50 L257.11 74.45 L257.41 75.48 L257.70 76.52 L258.00 77.51 L258.31 78.39 L258.63 79.11 L258.95 79.60 L259.30 79.80 L259.62 79.72 L259.95 79.43 L260.30 78.98 L260.65 78.40 L261.00 77.74 L261.35 77.02 L261.68 76.30 L262.00 75.60 L262.43 74.53 L262.83 73.33 L263.20 72.03 L263.55 70.66 L263.91 69.25 L264.28 67.83 L264.67 66.44 L265.10 65.10 L265.57 63.79 L266.07 62.48 L266.60 61.18 L267.13 59.89 L267.68 58.59 L268.22 57.29 L268.77 56.00 L269.30 54.70 L269.82 53.39 L270.34 52.07 L270.86 50.74 L271.37 49.42 L271.90 48.11 L272.42 46.81 L272.96 45.54 L273.50 44.30 L273.99 43.15 L274.47 41.96 L274.95 40.76 L275.44 39.59 L275.95 38.49 L276.49 37.48 L277.07 36.61 L277.70 35.90 L278.18 35.52 L278.70 35.21 L279.24 34.96 L279.80 34.75 L280.36 34.59 L280.90 34.45 L281.42 34.33 L281.90 34.20 L282.23 34.10 L282.54 34.01 L282.85 33.93 L283.15 33.85 L283.44 33.80 L283.73 33.77 L284.01 33.77 L284.30 33.80 L284.60 33.86 L284.90 33.95 L285.19 34.06 L285.49 34.20 L285.78 34.37 L286.06 34.57 L286.33 34.82 L286.60 35.10 L287.06 35.77 L287.47 36.64 L287.85 37.65 L288.22 38.77 L288.59 39.95 L288.96 41.14 L289.36 42.31 L289.80 43.40 L290.29 44.50 L290.80 45.62 L291.32 46.74 L291.86 47.86 L292.41 48.97 L292.99 50.07 L293.58 51.15 L294.20 52.20 L294.82 53.23 L295.46 54.30 L296.11 55.36 L296.78 56.40 L297.47 57.39 L298.19 58.30 L298.93 59.11 L299.70 59.80 L300.34 60.28 L301.01 60.73 L301.71 61.15 L302.41 61.51 L303.12 61.79 L303.81 61.98 L304.47 62.05 L305.10 62.00 L305.71 61.79 L306.31 61.45 L306.88 60.98 L307.44 60.41 L307.98 59.77 L308.50 59.07 L309.01 58.34 L309.50 57.60 L310.14 56.50 L310.73 55.25 L311.28 53.89 L311.81 52.46 L312.32 50.99 L312.83 49.51 L313.35 48.07 L313.90 46.70 L314.42 45.43 L314.92 44.14 L315.42 42.86 L315.92 41.59 L316.44 40.34 L317.01 39.14 L317.62 37.99 L318.30 36.90 L319.00 35.89 L319.75 34.84 L320.55 33.79 L321.38 32.80 L322.23 31.91 L323.09 31.16 L323.95 30.61 L324.80 30.30 L325.48 30.23 L326.18 30.29 L326.90 30.47 L327.61 30.75 L328.31 31.10 L329.00 31.53 L329.67 32.00 L330.30 32.50 L331.08 33.26 L331.80 34.18 L332.49 35.22 L333.15 36.36 L333.79 37.55 L334.42 38.78 L335.06 40.01 L335.70 41.20 L336.42 42.50 L337.16 43.83 L337.89 45.20 L338.61 46.58 L339.31 47.98 L339.98 49.39 L340.62 50.80 L341.20 52.20 L341.71 53.54 L342.19 54.88 L342.63 56.21 L343.05 57.56 L343.44 58.91 L343.81 60.28 L344.16 61.68 L344.50 63.10 L344.84 64.66 L345.15 66.25 L345.44 67.87 L345.70 69.50 L345.95 71.15 L346.19 72.82 L346.44 74.50 L346.70 76.20 L346.98 78.05 L347.26 79.94 L347.54 81.85 L347.82 83.77 L348.09 85.71 L348.36 87.65 L348.63 89.58 L348.90 91.50 L349.17 93.42 L349.44 95.36 L349.70 97.30 L349.96 99.24 L350.23 101.17 L350.49 103.08 L350.74 104.96 L351.00 106.80 L351.23 108.44 L351.46 110.06 L351.68 111.65 L351.91 113.22 L352.13 114.79 L352.35 116.35 L352.58 117.92 L352.80 119.50" fill="none" stroke="#00ff00" stroke-width="2.4" stroke-dasharray="3.6 7.0" stroke-linecap="round"/>
<path d="M24.60 138.60 L25.10 138.86 L25.60 139.56 L26.10 140.63 L26.60 141.97 L27.10 143.49 L27.60 145.10 L27.97 146.49 L28.33 148.25 L28.70 150.34 L29.07 152.72 L29.43 155.35 L29.80 158.20 L30.05 160.47 L30.30 163.18 L30.55 166.18 L30.80 169.34 L31.05 172.53 L31.30 175.60 L31.60 179.17 L31.90 182.78 L32.20 186.41 L32.50 190.07 L32.80 193.77 L33.10 197.50 L33.38 201.11 L33.67 204.81 L33.95 208.54 L34.23 212.25 L34.52 215.85 L34.80 219.30 L35.13 223.31 L35.47 227.37 L35.80 231.33 L36.13 235.04 L36.47 238.34 L36.80 241.10 L36.98 242.40 L37.17 243.60 L37.35 244.72 L37.53 245.73 L37.72 246.62 L37.90 247.40 L65.40 247.40 L65.77 246.81 L66.13 246.22 L66.50 245.62 L66.87 245.02 L67.23 244.41 L67.60 243.80 L67.97 243.17 L68.33 242.52 L68.70 241.86 L69.07 241.21 L69.43 240.59 L69.80 240.00 L70.13 239.47 L70.47 238.94 L70.80 238.43 L71.13 237.95 L71.47 237.53 L71.80 237.20 L72.25 236.82 L72.70 236.45 L73.15 236.11 L73.60 235.84 L74.05 235.67 L74.50 235.60 L74.92 235.65 L75.33 235.77 L75.75 235.97 L76.17 236.21 L76.58 236.49 L77.00 236.80 L77.30 237.08 L77.60 237.45 L77.90 237.91 L78.20 238.41 L78.50 238.95 L78.80 239.50 L79.08 240.07 L79.37 240.71 L79.65 241.40 L79.93 242.11 L80.22 242.82 L80.50 243.50 L80.78 244.16 L81.07 244.81 L81.35 245.46 L81.63 246.11 L81.92 246.76 L82.20 247.40 L106.60 247.40 L106.92 246.93 L107.23 246.48 L107.55 246.06 L107.87 245.67 L108.18 245.31 L108.50 245.00 L108.93 244.59 L109.37 244.18 L109.80 243.80 L110.23 243.49 L110.67 243.28 L111.10 243.20 L111.75 243.26 L112.40 243.41 L113.05 243.63 L113.70 243.90 L114.35 244.20 L115.00 244.50 L115.68 244.84 L116.37 245.25 L117.05 245.72 L117.73 246.24 L118.42 246.80 L119.10 247.40 L148.30 247.40 L148.72 244.59 L149.13 241.72 L149.55 238.79 L149.97 235.81 L150.38 232.78 L150.80 229.70 L151.23 226.42 L151.67 223.06 L152.10 219.64 L152.53 216.18 L152.97 212.69 L153.40 209.20 L153.82 205.78 L154.23 202.26 L154.65 198.72 L155.07 195.23 L155.48 191.87 L155.90 188.70 L156.33 185.45 L156.77 182.14 L157.20 178.94 L157.63 176.01 L158.07 173.51 L158.50 171.60 L158.93 170.05 L159.37 168.56 L159.80 167.24 L160.23 166.17 L160.67 165.46 L161.10 165.20 L161.43 165.23 L161.77 165.33 L162.10 165.48 L162.43 165.68 L162.77 165.92 L163.10 166.20 L163.47 166.83 L163.83 167.98 L164.20 169.53 L164.57 171.32 L164.93 173.22 L165.30 175.10 L165.73 177.42 L166.17 180.02 L166.60 182.85 L167.03 185.84 L167.47 188.95 L167.90 192.10 L168.32 195.26 L168.73 198.62 L169.15 202.11 L169.57 205.66 L169.98 209.18 L170.40 212.60 L170.83 216.15 L171.27 219.76 L171.70 223.36 L172.13 226.84 L172.57 230.12 L173.00 233.10 L173.43 235.85 L173.87 238.47 L174.30 240.96 L174.73 243.28 L175.17 245.43 L175.60 247.40 L204.90 247.40 L205.25 246.52 L205.60 245.59 L205.95 244.61 L206.30 243.58 L206.65 242.51 L207.00 241.40 L207.33 240.26 L207.67 239.02 L208.00 237.74 L208.33 236.44 L208.67 235.18 L209.00 234.00 L209.35 232.83 L209.70 231.67 L210.05 230.55 L210.40 229.47 L210.75 228.45 L211.10 227.50 L211.43 226.61 L211.77 225.70 L212.10 224.83 L212.43 224.05 L212.77 223.43 L213.10 223.00 L213.35 222.77 L213.60 222.56 L213.85 222.38 L214.10 222.23 L214.35 222.13 L214.60 222.10 L214.90 222.15 L215.20 222.29 L215.50 222.49 L215.80 222.76 L216.10 223.07 L216.40 223.40 L216.67 223.82 L216.93 224.42 L217.20 225.15 L217.47 225.95 L217.73 226.75 L218.00 227.50 L218.35 228.42 L218.70 229.33 L219.05 230.26 L219.40 231.20 L219.75 232.18 L220.10 233.20 L220.43 234.24 L220.77 235.35 L221.10 236.50 L221.43 237.65 L221.77 238.76 L222.10 239.80 L222.45 240.82 L222.80 241.82 L223.15 242.77 L223.50 243.71 L223.85 244.61 L224.20 245.50 L224.33 245.83 L224.47 246.15 L224.60 246.47 L224.73 246.79 L224.87 247.09 L225.00 247.40 L287.20 247.40 L287.57 246.94 L287.93 246.36 L288.30 245.68 L288.67 244.91 L289.03 244.08 L289.40 243.20 L289.70 242.39 L290.00 241.46 L290.30 240.43 L290.60 239.35 L290.90 238.22 L291.20 237.10 L291.48 236.00 L291.77 234.82 L292.05 233.60 L292.33 232.38 L292.62 231.20 L292.90 230.10 L293.20 229.00 L293.50 227.92 L293.80 226.87 L294.10 225.87 L294.40 224.91 L294.70 224.00 L294.98 223.15 L295.27 222.29 L295.55 221.46 L295.83 220.70 L296.12 220.07 L296.40 219.60 L296.77 219.12 L297.13 218.68 L297.50 218.29 L297.87 217.98 L298.23 217.77 L298.60 217.70 L298.97 217.75 L299.33 217.91 L299.70 218.14 L300.07 218.44 L300.43 218.80 L300.80 219.20 L301.08 219.66 L301.37 220.34 L301.65 221.19 L301.93 222.12 L302.22 223.08 L302.50 224.00 L302.80 224.94 L303.10 225.91 L303.40 226.91 L303.70 227.94 L304.00 229.00 L304.30 230.10 L304.58 231.19 L304.87 232.35 L305.15 233.54 L305.43 234.75 L305.72 235.94 L306.00 237.10 L306.30 238.33 L306.60 239.58 L306.90 240.82 L307.20 242.01 L307.50 243.12 L307.80 244.10 L308.02 244.74 L308.23 245.35 L308.45 245.92 L308.67 246.46 L308.88 246.95 L309.10 247.40 L343.40 247.40 L343.95 244.35 L344.50 241.36 L345.05 238.43 L345.60 235.56 L346.15 232.75 L346.70 230.00 L347.25 227.29 L347.80 224.62 L348.35 221.99 L348.90 219.45 L349.45 217.01 L350.00 214.70 L350.47 212.83 L350.93 211.03 L351.40 209.29 L351.87 207.62 L352.33 206.02 L352.80 204.50" fill="none" stroke="#0000ff" stroke-width="2.2" stroke-linejoin="round"/>
<line x1="294.2" y1="203.7" x2="324.6" y2="203.7" stroke="#ff0000" stroke-width="2.2" stroke-dasharray="0.9 3.9 6.2 3.5"/>
<line x1="295.9" y1="214.4" x2="324" y2="214.4" stroke="#00ff00" stroke-width="2.4" stroke-dasharray="3.8 8.1" stroke-linecap="round"/>
<line x1="298.8" y1="225.3" x2="324" y2="225.3" stroke="#ff62ff" stroke-width="3.0" stroke-dasharray="1.1 3.5"/>
<line x1="295.1" y1="236.2" x2="324.6" y2="236.2" stroke="#0000ff" stroke-width="2.2"/>
<text x="328.2" y="207.0" class="lg">UR</text>
<text x="328.2" y="217.7" class="lg">UL</text>
<text x="328.2" y="228.6" class="lg">EP</text>
<text x="328.2" y="239.5" class="lg">NE</text>
<text x="175.2" y="271.8" class="xl"><tspan class="gr">λ</tspan><tspan x="185.6">t/</tspan><tspan class="pi" x="193">π</tspan></text>
<text x="25.6" y="17.4" class="pl">(a)</text>
<line x1="24.0" y1="289.59999999999997" x2="24.0" y2="518.0" stroke="#a0a0a0" stroke-width="1.3"/>
<line x1="23.4" y1="517.9" x2="352.0" y2="517.9" stroke="#b0b0b0" stroke-width="1.4"/>
<line x1="24.0" y1="517.60" x2="26.8" y2="517.60" stroke="#a0a0a0" stroke-width="1"/>
<text x="21.2" y="520.90" text-anchor="end" class="tk">0</text>
<line x1="24.0" y1="495.88" x2="26.8" y2="495.88" stroke="#a0a0a0" stroke-width="1"/>
<text x="21.2" y="499.18" text-anchor="end" class="tk">0.2</text>
<line x1="24.0" y1="474.16" x2="26.8" y2="474.16" stroke="#a0a0a0" stroke-width="1"/>
<text x="21.2" y="477.46" text-anchor="end" class="tk">0.4</text>
<line x1="24.0" y1="452.44" x2="26.8" y2="452.44" stroke="#a0a0a0" stroke-width="1"/>
<text x="21.2" y="455.74" text-anchor="end" class="tk">0.6</text>
<line x1="24.0" y1="430.72" x2="26.8" y2="430.72" stroke="#a0a0a0" stroke-width="1"/>
<text x="21.2" y="434.02" text-anchor="end" class="tk">0.8</text>
<line x1="24.0" y1="409.00" x2="26.8" y2="409.00" stroke="#a0a0a0" stroke-width="1"/>
<text x="21.2" y="412.30" text-anchor="end" class="tk">1</text>
<line x1="24.0" y1="387.28" x2="26.8" y2="387.28" stroke="#a0a0a0" stroke-width="1"/>
<text x="21.2" y="390.58" text-anchor="end" class="tk">1.2</text>
<line x1="24.0" y1="365.56" x2="26.8" y2="365.56" stroke="#a0a0a0" stroke-width="1"/>
<text x="21.2" y="368.86" text-anchor="end" class="tk">1.4</text>
<line x1="24.0" y1="343.84" x2="26.8" y2="343.84" stroke="#a0a0a0" stroke-width="1"/>
<text x="21.2" y="347.14" text-anchor="end" class="tk">1.6</text>
<line x1="24.0" y1="322.12" x2="26.8" y2="322.12" stroke="#a0a0a0" stroke-width="1"/>
<text x="21.2" y="325.42" text-anchor="end" class="tk">1.8</text>
<line x1="24.0" y1="300.40" x2="26.8" y2="300.40" stroke="#a0a0a0" stroke-width="1"/>
<text x="21.2" y="303.70" text-anchor="end" class="tk">2</text>
<line x1="23.80" y1="517.6" x2="23.80" y2="514.8" stroke="#909090" stroke-width="1"/>
<text x="23.80" y="529.00" text-anchor="middle" class="tk">0</text>
<line x1="70.63" y1="517.6" x2="70.63" y2="514.8" stroke="#909090" stroke-width="1"/>
<text x="70.63" y="529.00" text-anchor="middle" class="tk">1</text>
<line x1="117.46" y1="517.6" x2="117.46" y2="514.8" stroke="#909090" stroke-width="1"/>
<text x="117.46" y="529.00" text-anchor="middle" class="tk">2</text>
<line x1="164.29" y1="517.6" x2="164.29" y2="514.8" stroke="#909090" stroke-width="1"/>
<text x="164.29" y="529.00" text-anchor="middle" class="tk">3</text>
<line x1="211.12" y1="517.6" x2="211.12" y2="514.8" stroke="#909090" stroke-width="1"/>
<text x="211.12" y="529.00" text-anchor="middle" class="tk">4</text>
<line x1="257.95" y1="517.6" x2="257.95" y2="514.8" stroke="#909090" stroke-width="1"/>
<text x="257.95" y="529.00" text-anchor="middle" class="tk">5</text>
<line x1="304.78" y1="517.6" x2="304.78" y2="514.8" stroke="#909090" stroke-width="1"/>
<text x="304.78" y="529.00" text-anchor="middle" class="tk">6</text>
<line x1="351.61" y1="517.6" x2="351.61" y2="514.8" stroke="#909090" stroke-width="1"/>
<text x="351.61" y="529.00" text-anchor="middle" class="tk">7</text>
<path d="M24.80 517.60 L25.14 512.85 L25.48 508.02 L25.83 503.16 L26.18 498.32 L26.52 493.54 L26.85 488.86 L27.18 484.33 L27.50 480.00 L27.75 476.57 L28.00 473.17 L28.25 469.84 L28.49 466.60 L28.73 463.47 L28.96 460.48 L29.18 457.65 L29.40 455.00 L29.54 453.31 L29.66 451.73 L29.78 450.23 L29.89 448.79 L30.02 447.39 L30.15 446.01 L30.31 444.62 L30.50 443.20 L30.68 441.72 L30.83 440.11 L30.99 438.46 L31.17 436.84 L31.39 435.33 L31.69 434.02 L32.09 432.98 L32.60 432.30 L32.94 432.08 L33.33 431.95 L33.75 431.88 L34.18 431.88 L34.63 431.93 L35.07 432.02 L35.50 432.15 L35.90 432.30 L36.34 432.55 L36.75 432.91 L37.14 433.35 L37.53 433.84 L37.91 434.34 L38.32 434.82 L38.74 435.25 L39.20 435.60 L39.70 435.91 L40.23 436.22 L40.79 436.53 L41.37 436.80 L41.94 437.01 L42.49 437.15 L43.02 437.18 L43.50 437.10 L43.99 436.84 L44.44 436.42 L44.86 435.88 L45.25 435.24 L45.63 434.53 L46.01 433.78 L46.39 433.03 L46.80 432.30 L47.35 431.36 L47.90 430.35 L48.46 429.30 L49.02 428.20 L49.58 427.07 L50.13 425.92 L50.67 424.76 L51.20 423.60 L51.77 422.29 L52.32 420.93 L52.87 419.53 L53.41 418.11 L53.94 416.70 L54.47 415.32 L54.99 413.98 L55.50 412.70 L55.91 411.64 L56.30 410.55 L56.67 409.46 L57.04 408.41 L57.43 407.42 L57.84 406.52 L58.29 405.73 L58.80 405.10 L59.18 404.74 L59.58 404.41 L60.01 404.11 L60.45 403.85 L60.89 403.66 L61.32 403.55 L61.72 403.52 L62.10 403.60 L62.59 403.94 L63.04 404.55 L63.45 405.36 L63.83 406.32 L64.20 407.37 L64.56 408.46 L64.92 409.52 L65.30 410.50 L65.71 411.64 L66.09 412.96 L66.46 414.36 L66.83 415.75 L67.22 417.03 L67.63 418.11 L68.09 418.90 L68.60 419.30 L68.98 419.34 L69.38 419.25 L69.81 419.05 L70.25 418.76 L70.69 418.40 L71.12 417.99 L71.52 417.55 L71.90 417.10 L72.42 416.32 L72.89 415.39 L73.31 414.33 L73.71 413.18 L74.08 411.97 L74.45 410.73 L74.82 409.50 L75.20 408.30 L75.62 406.98 L76.02 405.59 L76.41 404.17 L76.80 402.74 L77.18 401.32 L77.57 399.94 L77.98 398.63 L78.40 397.40 L78.75 396.41 L79.13 395.33 L79.51 394.23 L79.90 393.19 L80.28 392.27 L80.64 391.53 L80.99 391.05 L81.30 390.90 L81.62 391.18 L81.91 391.88 L82.18 392.92 L82.43 394.20 L82.66 395.64 L82.88 397.14 L83.09 398.63 L83.30 400.00 L83.55 401.71 L83.78 403.53 L83.99 405.45 L84.19 407.41 L84.37 409.38 L84.55 411.32 L84.72 413.21 L84.90 415.00 L85.05 416.44 L85.19 417.82 L85.33 419.15 L85.46 420.47 L85.60 421.79 L85.73 423.13 L85.86 424.53 L86.00 426.00 L86.17 427.90 L86.35 429.88 L86.53 431.92 L86.71 434.01 L86.89 436.13 L87.06 438.26 L87.24 440.39 L87.40 442.50 L87.56 444.66 L87.71 446.83 L87.86 449.01 L88.00 451.20 L88.15 453.40 L88.29 455.60 L88.44 457.80 L88.60 460.00 L88.77 462.25 L88.95 464.51 L89.13 466.78 L89.31 469.05 L89.49 471.32 L89.67 473.57 L89.84 475.80 L90.00 478.00 L90.14 480.08 L90.27 482.19 L90.40 484.30 L90.52 486.38 L90.64 488.42 L90.76 490.39 L90.88 492.26 L91.00 494.00 L91.08 495.28 L91.14 496.64 L91.20 498.02 L91.25 499.33 L91.32 500.49 L91.42 501.43 L91.54 502.05 L91.70 502.30 L91.83 502.23 L91.98 502.00 L92.15 501.64 L92.33 501.19 L92.50 500.67 L92.68 500.11 L92.85 499.54 L93.00 499.00 L93.22 498.12 L93.43 497.17 L93.63 496.14 L93.81 495.04 L93.99 493.87 L94.16 492.64 L94.33 491.35 L94.50 490.00 L94.76 487.69 L95.01 485.13 L95.25 482.38 L95.47 479.49 L95.69 476.52 L95.90 473.52 L96.10 470.57 L96.30 467.70 L96.48 464.87 L96.65 462.04 L96.80 459.20 L96.94 456.36 L97.09 453.52 L97.25 450.68 L97.41 447.84 L97.60 445.00 L97.81 442.14 L98.02 439.26 L98.25 436.37 L98.48 433.49 L98.73 430.63 L98.98 427.80 L99.24 425.02 L99.50 422.30 L99.71 419.80 L99.89 417.19 L100.05 414.54 L100.23 411.95 L100.45 409.52 L100.73 407.34 L101.11 405.50 L101.60 404.10 L101.85 403.62 L102.12 403.17 L102.42 402.76 L102.72 402.40 L103.03 402.11 L103.33 401.90 L103.62 401.79 L103.90 401.80 L104.38 402.23 L104.82 403.20 L105.23 404.57 L105.62 406.22 L106.01 408.03 L106.41 409.88 L106.83 411.64 L107.30 413.20 L107.81 414.66 L108.34 416.17 L108.89 417.69 L109.45 419.20 L110.03 420.67 L110.61 422.06 L111.20 423.35 L111.80 424.50 L112.22 425.27 L112.65 426.07 L113.09 426.85 L113.53 427.59 L113.96 428.22 L114.39 428.72 L114.81 429.02 L115.20 429.10 L115.68 428.79 L116.12 428.05 L116.53 426.98 L116.93 425.68 L117.33 424.23 L117.73 422.74 L118.15 421.30 L118.60 420.00 L119.14 418.64 L119.70 417.25 L120.28 415.84 L120.87 414.42 L121.46 412.97 L122.05 411.52 L122.63 410.06 L123.20 408.60 L123.77 407.01 L124.34 405.33 L124.89 403.61 L125.45 401.89 L126.00 400.23 L126.56 398.68 L127.12 397.28 L127.70 396.10 L128.05 395.47 L128.41 394.82 L128.77 394.21 L129.13 393.64 L129.49 393.16 L129.84 392.79 L130.18 392.56 L130.50 392.50 L130.86 392.69 L131.20 393.14 L131.54 393.79 L131.86 394.58 L132.17 395.45 L132.46 396.35 L132.74 397.22 L133.00 398.00 L133.24 398.72 L133.45 399.43 L133.64 400.14 L133.81 400.86 L133.98 401.61 L134.15 402.39 L134.32 403.22 L134.50 404.10 L134.79 405.53 L135.08 407.07 L135.37 408.71 L135.66 410.43 L135.95 412.21 L136.24 414.03 L136.53 415.87 L136.80 417.70 L137.10 419.85 L137.38 422.06 L137.64 424.33 L137.91 426.64 L138.17 428.97 L138.46 431.30 L138.76 433.61 L139.10 435.90 L139.43 438.37 L139.72 441.11 L140.01 443.96 L140.33 446.76 L140.70 449.33 L141.17 451.50 L141.76 453.12 L142.50 454.00 L142.93 454.15 L143.40 454.18 L143.91 454.09 L144.43 453.90 L144.96 453.63 L145.48 453.30 L145.96 452.92 L146.40 452.50 L147.02 451.48 L147.53 449.98 L147.95 448.20 L148.34 446.30 L148.72 444.46 L149.13 442.86 L149.61 441.68 L150.20 441.10 L150.63 441.04 L151.11 441.13 L151.62 441.34 L152.14 441.66 L152.65 442.07 L153.15 442.54 L153.60 443.06 L154.00 443.60 L154.55 444.68 L154.97 446.03 L155.29 447.58 L155.55 449.28 L155.77 451.07 L155.98 452.87 L156.22 454.64 L156.50 456.30 L156.82 457.91 L157.16 459.53 L157.50 461.16 L157.83 462.79 L158.17 464.41 L158.49 466.00 L158.80 467.57 L159.10 469.10 L159.35 470.56 L159.58 472.18 L159.81 473.86 L160.03 475.49 L160.25 476.95 L160.46 478.13 L160.68 478.91 L160.90 479.20 L161.15 478.85 L161.40 477.88 L161.65 476.43 L161.90 474.62 L162.15 472.60 L162.40 470.48 L162.65 468.40 L162.90 466.50 L163.21 464.18 L163.52 461.73 L163.83 459.18 L164.13 456.57 L164.44 453.93 L164.76 451.30 L165.07 448.71 L165.40 446.20 L165.69 443.84 L165.94 441.41 L166.18 438.97 L166.43 436.57 L166.71 434.24 L167.06 432.06 L167.48 430.06 L168.00 428.30 L168.40 427.24 L168.83 426.15 L169.30 425.09 L169.80 424.11 L170.30 423.26 L170.81 422.60 L171.31 422.16 L171.80 422.00 L172.28 422.18 L172.76 422.67 L173.24 423.40 L173.72 424.31 L174.19 425.33 L174.67 426.37 L175.14 427.39 L175.60 428.30 L176.09 429.22 L176.57 430.16 L177.04 431.12 L177.51 432.10 L177.98 433.08 L178.45 434.06 L178.92 435.03 L179.40 436.00 L179.88 436.95 L180.37 437.89 L180.87 438.82 L181.36 439.76 L181.86 440.70 L182.34 441.65 L182.83 442.62 L183.30 443.60 L183.78 444.78 L184.24 446.14 L184.69 447.58 L185.13 449.00 L185.58 450.30 L186.05 451.38 L186.56 452.15 L187.10 452.50 L187.54 452.48 L188.02 452.27 L188.52 451.89 L189.02 451.39 L189.52 450.79 L190.01 450.12 L190.48 449.42 L190.90 448.70 L191.54 447.32 L192.10 445.66 L192.60 443.78 L193.04 441.74 L193.46 439.63 L193.86 437.49 L194.27 435.39 L194.70 433.40 L195.13 431.48 L195.55 429.53 L195.95 427.56 L196.35 425.60 L196.75 423.67 L197.15 421.78 L197.57 419.95 L198.00 418.20 L198.35 416.77 L198.68 415.32 L199.00 413.89 L199.33 412.49 L199.69 411.18 L200.09 409.97 L200.56 408.90 L201.10 408.00 L201.51 407.48 L201.97 406.98 L202.46 406.52 L202.96 406.12 L203.47 405.79 L203.97 405.55 L204.45 405.41 L204.90 405.40 L205.33 405.55 L205.75 405.84 L206.16 406.26 L206.56 406.77 L206.94 407.33 L207.31 407.91 L207.66 408.48 L208.00 409.00 L208.31 409.48 L208.59 409.98 L208.85 410.48 L209.10 410.99 L209.34 411.50 L209.59 412.03 L209.84 412.56 L210.10 413.10 L210.41 413.78 L210.72 414.58 L211.05 415.44 L211.37 416.28 L211.69 417.04 L212.01 417.66 L212.31 418.07 L212.60 418.20 L212.97 417.86 L213.31 417.01 L213.63 415.77 L213.95 414.26 L214.25 412.61 L214.56 410.93 L214.87 409.35 L215.20 408.00 L215.49 406.83 L215.76 405.53 L216.02 404.20 L216.30 402.91 L216.59 401.75 L216.91 400.78 L217.28 400.11 L217.70 399.80 L218.11 399.84 L218.58 400.11 L219.08 400.56 L219.61 401.15 L220.13 401.85 L220.63 402.61 L221.09 403.41 L221.50 404.20 L222.02 405.52 L222.45 407.05 L222.79 408.74 L223.08 410.55 L223.33 412.44 L223.57 414.37 L223.82 416.31 L224.10 418.20 L224.44 420.32 L224.77 422.49 L225.10 424.71 L225.42 426.96 L225.73 429.23 L226.03 431.50 L226.32 433.76 L226.60 436.00 L226.85 438.31 L227.06 440.76 L227.25 443.26 L227.43 445.73 L227.62 448.10 L227.84 450.29 L228.09 452.21 L228.40 453.80 L228.57 454.47 L228.75 455.15 L228.94 455.79 L229.13 456.38 L229.32 456.89 L229.52 457.28 L229.71 457.52 L229.90 457.60 L230.24 457.18 L230.58 456.07 L230.91 454.44 L231.24 452.43 L231.56 450.18 L231.88 447.87 L232.19 445.62 L232.50 443.60 L232.82 441.44 L233.12 439.18 L233.39 436.86 L233.67 434.52 L233.96 432.19 L234.26 429.94 L234.61 427.79 L235.00 425.80 L235.32 424.33 L235.63 422.85 L235.94 421.41 L236.28 420.03 L236.65 418.73 L237.07 417.54 L237.55 416.49 L238.10 415.60 L238.51 415.09 L238.97 414.59 L239.45 414.13 L239.96 413.73 L240.47 413.41 L240.97 413.19 L241.45 413.08 L241.90 413.10 L242.43 413.39 L242.92 413.95 L243.40 414.72 L243.85 415.64 L244.30 416.63 L244.76 417.64 L245.22 418.58 L245.70 419.40 L246.16 420.14 L246.62 420.95 L247.09 421.79 L247.56 422.60 L248.04 423.32 L248.52 423.92 L249.01 424.33 L249.50 424.50 L249.97 424.43 L250.45 424.19 L250.94 423.79 L251.44 423.28 L251.93 422.68 L252.40 422.04 L252.86 421.36 L253.30 420.70 L253.87 419.69 L254.40 418.54 L254.90 417.29 L255.37 415.95 L255.82 414.57 L256.27 413.18 L256.73 411.81 L257.20 410.50 L257.67 409.22 L258.14 407.91 L258.59 406.59 L259.05 405.28 L259.52 403.99 L259.99 402.74 L260.48 401.54 L261.00 400.40 L261.44 399.44 L261.89 398.41 L262.35 397.38 L262.82 396.39 L263.30 395.50 L263.79 394.77 L264.29 394.25 L264.80 394.00 L265.20 393.99 L265.62 394.11 L266.06 394.34 L266.49 394.66 L266.92 395.06 L267.34 395.51 L267.74 395.99 L268.10 396.50 L268.64 397.50 L269.11 398.72 L269.52 400.11 L269.89 401.64 L270.23 403.24 L270.55 404.86 L270.87 406.47 L271.20 408.00 L271.55 409.59 L271.89 411.26 L272.21 412.96 L272.52 414.66 L272.82 416.33 L273.12 417.91 L273.41 419.38 L273.70 420.70 L273.88 421.43 L274.06 422.06 L274.24 422.63 L274.42 423.18 L274.59 423.73 L274.76 424.33 L274.93 425.01 L275.10 425.80 L275.43 427.69 L275.75 429.92 L276.06 432.42 L276.36 435.10 L276.67 437.89 L276.98 440.71 L277.29 443.47 L277.60 446.10 L277.92 448.65 L278.25 451.21 L278.59 453.77 L278.92 456.33 L279.26 458.88 L279.58 461.42 L279.90 463.93 L280.20 466.40 L280.46 468.92 L280.71 471.76 L280.94 474.71 L281.17 477.58 L281.40 480.16 L281.65 482.26 L281.91 483.67 L282.20 484.20 L282.41 484.01 L282.63 483.47 L282.86 482.64 L283.09 481.60 L283.32 480.40 L283.55 479.13 L283.78 477.84 L284.00 476.60 L284.34 474.53 L284.65 472.19 L284.96 469.65 L285.26 466.98 L285.56 464.25 L285.87 461.51 L286.18 458.84 L286.50 456.30 L286.79 453.96 L287.05 451.58 L287.30 449.19 L287.57 446.83 L287.86 444.54 L288.20 442.36 L288.61 440.33 L289.10 438.50 L289.49 437.27 L289.93 435.99 L290.39 434.72 L290.88 433.53 L291.38 432.49 L291.89 431.66 L292.40 431.11 L292.90 430.90 L293.37 431.16 L293.85 431.88 L294.34 432.91 L294.83 434.08 L295.32 435.25 L295.80 436.26 L296.26 436.96 L296.70 437.20 L297.23 436.82 L297.74 435.90 L298.22 434.55 L298.69 432.91 L299.14 431.08 L299.59 429.21 L300.04 427.41 L300.50 425.80 L300.97 424.18 L301.43 422.44 L301.87 420.65 L302.32 418.86 L302.77 417.15 L303.25 415.58 L303.76 414.21 L304.30 413.10 L304.61 412.60 L304.94 412.10 L305.28 411.64 L305.62 411.23 L305.96 410.89 L306.29 410.64 L306.61 410.51 L306.90 410.50 L307.29 410.79 L307.64 411.41 L307.96 412.30 L308.26 413.37 L308.55 414.56 L308.83 415.80 L309.11 417.00 L309.40 418.10 L309.72 419.33 L310.01 420.63 L310.28 421.99 L310.56 423.36 L310.85 424.71 L311.18 426.00 L311.55 427.21 L312.00 428.30 L312.39 429.10 L312.81 429.88 L313.26 430.65 L313.72 431.36 L314.21 432.02 L314.73 432.59 L315.25 433.05 L315.80 433.40 L316.25 433.53 L316.72 433.54 L317.22 433.46 L317.73 433.34 L318.23 433.22 L318.71 433.17 L319.18 433.21 L319.60 433.40 L320.24 434.05 L320.79 435.02 L321.28 436.23 L321.73 437.62 L322.15 439.12 L322.55 440.66 L322.96 442.18 L323.40 443.60 L323.88 445.19 L324.34 446.91 L324.79 448.71 L325.23 450.50 L325.68 452.23 L326.15 453.82 L326.65 455.20 L327.20 456.30 L327.51 456.79 L327.84 457.27 L328.18 457.72 L328.53 458.12 L328.87 458.45 L329.20 458.69 L329.51 458.81 L329.80 458.80 L330.27 458.32 L330.66 457.28 L330.99 455.81 L331.27 454.01 L331.53 452.03 L331.77 449.97 L332.03 447.95 L332.30 446.10 L332.63 444.02 L332.96 441.87 L333.27 439.65 L333.57 437.39 L333.88 435.11 L334.18 432.82 L334.49 430.55 L334.80 428.30 L335.11 426.05 L335.40 423.77 L335.68 421.48 L335.97 419.20 L336.28 416.94 L336.61 414.72 L336.98 412.57 L337.40 410.50 L337.80 408.76 L338.23 407.02 L338.68 405.30 L339.16 403.62 L339.65 402.01 L340.16 400.49 L340.68 399.08 L341.20 397.80 L341.56 396.96 L341.92 396.10 L342.29 395.25 L342.66 394.45 L343.04 393.76 L343.42 393.20 L343.81 392.84 L344.20 392.70 L344.61 392.82 L345.04 393.17 L345.47 393.70 L345.91 394.39 L346.35 395.18 L346.76 396.04 L347.15 396.93 L347.50 397.80 L347.99 399.31 L348.41 401.06 L348.77 402.99 L349.08 405.04 L349.36 407.14 L349.61 409.22 L349.85 411.23 L350.10 413.10 L350.30 414.63 L350.47 416.16 L350.63 417.68 L350.77 419.16 L350.91 420.60 L351.06 421.98 L351.22 423.29 L351.40 424.50 L351.54 425.29 L351.68 426.02 L351.83 426.71 L351.99 427.38 L352.14 428.03 L352.29 428.67 L352.45 429.33 L352.60 430.00" fill="none" stroke="#ff62ff" stroke-width="3.0" stroke-dasharray="1.1 2.85"/>
<path d="M25.10 517.60 L25.40 512.66 L25.70 507.74 L26.00 502.82 L26.30 497.90 L26.60 492.97 L26.90 488.01 L27.20 483.03 L27.50 478.00 L27.82 472.68 L28.15 467.27 L28.48 461.81 L28.81 456.34 L29.13 450.88 L29.44 445.48 L29.73 440.18 L30.00 435.00 L30.21 430.39 L30.40 425.79 L30.56 421.22 L30.72 416.72 L30.88 412.31 L31.06 408.04 L31.26 403.92 L31.50 400.00 L31.71 397.06 L31.94 394.16 L32.18 391.34 L32.43 388.61 L32.69 385.99 L32.96 383.50 L33.23 381.17 L33.50 379.00 L33.67 377.69 L33.83 376.46 L33.99 375.31 L34.15 374.21 L34.32 373.14 L34.52 372.10 L34.74 371.06 L35.00 370.00 L35.29 369.01 L35.61 368.05 L35.96 367.11 L36.32 366.18 L36.70 365.24 L37.08 364.29 L37.45 363.32 L37.80 362.30 L38.20 361.09 L38.59 359.84 L38.98 358.57 L39.37 357.27 L39.76 355.95 L40.15 354.61 L40.53 353.26 L40.90 351.90 L41.30 350.37 L41.68 348.77 L42.05 347.15 L42.42 345.50 L42.79 343.87 L43.17 342.28 L43.57 340.75 L44.00 339.30 L44.36 338.13 L44.71 336.95 L45.07 335.78 L45.44 334.65 L45.83 333.58 L46.25 332.60 L46.70 331.73 L47.20 331.00 L47.55 330.58 L47.91 330.19 L48.28 329.83 L48.66 329.51 L49.06 329.25 L49.47 329.06 L49.88 328.93 L50.30 328.90 L50.85 329.02 L51.43 329.33 L52.03 329.78 L52.64 330.33 L53.25 330.92 L53.86 331.51 L54.44 332.05 L55.00 332.50 L55.44 332.79 L55.88 333.05 L56.30 333.29 L56.72 333.52 L57.13 333.77 L57.53 334.03 L57.92 334.34 L58.30 334.70 L58.76 335.22 L59.20 335.78 L59.62 336.40 L60.02 337.05 L60.41 337.76 L60.79 338.52 L61.15 339.33 L61.50 340.20 L62.02 341.72 L62.49 343.46 L62.93 345.36 L63.34 347.36 L63.72 349.42 L64.09 351.49 L64.45 353.50 L64.80 355.40 L65.10 357.11 L65.36 358.83 L65.59 360.55 L65.81 362.25 L66.05 363.91 L66.31 365.52 L66.62 367.05 L67.00 368.50 L67.35 369.67 L67.74 370.93 L68.15 372.21 L68.59 373.42 L69.03 374.49 L69.47 375.35 L69.90 375.91 L70.30 376.10 L70.73 375.83 L71.15 375.10 L71.57 374.02 L71.98 372.66 L72.38 371.13 L72.77 369.49 L73.14 367.86 L73.50 366.30 L73.99 363.97 L74.42 361.38 L74.83 358.60 L75.21 355.70 L75.58 352.77 L75.97 349.87 L76.37 347.09 L76.80 344.50 L77.17 342.38 L77.53 340.23 L77.89 338.08 L78.26 335.99 L78.65 334.02 L79.08 332.21 L79.56 330.62 L80.10 329.30 L80.42 328.68 L80.77 328.07 L81.13 327.49 L81.51 326.97 L81.88 326.53 L82.24 326.21 L82.59 326.02 L82.90 326.00 L83.32 326.35 L83.70 327.12 L84.03 328.23 L84.33 329.60 L84.62 331.12 L84.90 332.73 L85.19 334.31 L85.50 335.80 L85.92 337.71 L86.35 339.73 L86.77 341.83 L87.19 344.00 L87.60 346.24 L88.01 348.53 L88.41 350.85 L88.80 353.20 L89.25 356.06 L89.69 359.09 L90.13 362.23 L90.56 365.40 L90.97 368.55 L91.37 371.61 L91.75 374.52 L92.10 377.20 L92.34 379.20 L92.57 381.36 L92.78 383.55 L92.98 385.63 L93.18 387.47 L93.38 388.95 L93.58 389.94 L93.80 390.30 L93.98 390.08 L94.17 389.46 L94.36 388.53 L94.55 387.34 L94.75 385.98 L94.93 384.52 L95.12 383.03 L95.30 381.60 L95.60 378.99 L95.88 376.02 L96.16 372.76 L96.42 369.31 L96.69 365.76 L96.95 362.20 L97.22 358.72 L97.50 355.40 L97.76 352.23 L98.00 348.92 L98.24 345.56 L98.48 342.25 L98.74 339.08 L99.02 336.16 L99.34 333.56 L99.70 331.40 L99.89 330.46 L100.08 329.52 L100.29 328.62 L100.49 327.80 L100.71 327.09 L100.93 326.53 L101.16 326.15 L101.40 326.00 L101.58 326.04 L101.76 326.20 L101.96 326.44 L102.15 326.77 L102.35 327.14 L102.54 327.55 L102.73 327.98 L102.90 328.40 L103.19 329.20 L103.45 330.11 L103.70 331.13 L103.93 332.23 L104.15 333.39 L104.37 334.58 L104.58 335.79 L104.80 337.00 L105.06 338.52 L105.31 340.12 L105.55 341.77 L105.78 343.47 L106.01 345.18 L106.24 346.91 L106.47 348.62 L106.70 350.30 L106.94 351.97 L107.17 353.65 L107.41 355.33 L107.64 357.01 L107.88 358.68 L108.11 360.34 L108.36 361.98 L108.60 363.60 L108.83 365.09 L109.06 366.56 L109.29 368.02 L109.53 369.47 L109.77 370.91 L110.01 372.32 L110.25 373.72 L110.50 375.10 L110.73 376.36 L110.95 377.64 L111.18 378.93 L111.41 380.19 L111.64 381.40 L111.89 382.56 L112.14 383.63 L112.40 384.60 L112.58 385.22 L112.75 385.86 L112.93 386.50 L113.12 387.09 L113.30 387.61 L113.50 388.03 L113.69 388.30 L113.90 388.40 L114.17 388.24 L114.45 387.80 L114.75 387.14 L115.05 386.32 L115.36 385.41 L115.65 384.46 L115.94 383.54 L116.20 382.70 L116.47 381.81 L116.73 380.89 L116.97 379.94 L117.20 378.98 L117.42 378.00 L117.64 377.03 L117.87 376.06 L118.10 375.10 L118.34 374.16 L118.58 373.22 L118.82 372.29 L119.06 371.36 L119.30 370.42 L119.54 369.47 L119.77 368.49 L120.00 367.50 L120.25 366.36 L120.50 365.20 L120.74 364.02 L120.97 362.83 L121.21 361.61 L121.44 360.39 L121.67 359.15 L121.90 357.90 L122.15 356.52 L122.39 355.12 L122.63 353.70 L122.86 352.27 L123.10 350.82 L123.33 349.38 L123.56 347.93 L123.80 346.50 L124.04 345.06 L124.27 343.60 L124.50 342.14 L124.73 340.68 L124.97 339.23 L125.20 337.80 L125.45 336.38 L125.70 335.00 L125.93 333.75 L126.15 332.51 L126.37 331.29 L126.60 330.07 L126.84 328.88 L127.10 327.72 L127.38 326.59 L127.70 325.50 L127.99 324.54 L128.28 323.53 L128.58 322.52 L128.90 321.55 L129.25 320.65 L129.62 319.86 L130.04 319.23 L130.50 318.80 L130.83 318.62 L131.18 318.50 L131.56 318.43 L131.94 318.41 L132.33 318.44 L132.71 318.52 L133.07 318.64 L133.40 318.80 L133.82 319.12 L134.21 319.56 L134.58 320.11 L134.92 320.73 L135.25 321.41 L135.57 322.13 L135.89 322.87 L136.20 323.60 L136.61 324.61 L137.00 325.70 L137.37 326.86 L137.73 328.07 L138.07 329.31 L138.41 330.57 L138.76 331.84 L139.10 333.10 L139.48 334.48 L139.85 335.87 L140.21 337.29 L140.57 338.72 L140.93 340.17 L141.29 341.64 L141.64 343.11 L142.00 344.60 L142.38 346.22 L142.77 347.89 L143.15 349.58 L143.53 351.28 L143.91 352.98 L144.28 354.66 L144.65 356.30 L145.00 357.90 L145.29 359.28 L145.56 360.64 L145.81 361.97 L146.06 363.28 L146.32 364.59 L146.61 365.89 L146.93 367.19 L147.30 368.50 L147.75 369.85 L148.27 371.17 L148.83 372.47 L149.42 373.78 L150.01 375.10 L150.58 376.47 L151.12 377.90 L151.60 379.40 L152.13 381.35 L152.61 383.38 L153.06 385.49 L153.47 387.66 L153.86 389.89 L154.22 392.16 L154.57 394.47 L154.90 396.80 L155.25 399.53 L155.56 402.34 L155.83 405.21 L156.07 408.13 L156.30 411.08 L156.53 414.06 L156.76 417.03 L157.00 420.00 L157.26 423.14 L157.51 426.40 L157.76 429.71 L158.01 433.01 L158.26 436.25 L158.50 439.37 L158.75 442.30 L159.00 445.00 L159.17 446.87 L159.33 448.87 L159.49 450.87 L159.65 452.76 L159.82 454.44 L160.00 455.78 L160.19 456.67 L160.40 457.00 L160.58 456.83 L160.77 456.34 L160.98 455.59 L161.19 454.63 L161.40 453.54 L161.61 452.36 L161.81 451.16 L162.00 450.00 L162.31 447.88 L162.60 445.49 L162.88 442.87 L163.15 440.08 L163.41 437.17 L163.67 434.20 L163.93 431.23 L164.20 428.30 L164.51 424.93 L164.83 421.40 L165.14 417.77 L165.46 414.11 L165.77 410.48 L166.09 406.94 L166.40 403.56 L166.70 400.40 L166.91 398.10 L167.10 395.85 L167.28 393.66 L167.46 391.54 L167.66 389.51 L167.89 387.56 L168.16 385.72 L168.50 384.00 L168.76 382.85 L169.02 381.75 L169.29 380.71 L169.58 379.71 L169.91 378.75 L170.28 377.84 L170.71 376.95 L171.20 376.10 L171.77 375.34 L172.43 374.67 L173.16 374.06 L173.93 373.47 L174.70 372.87 L175.44 372.23 L176.11 371.51 L176.70 370.70 L177.29 369.57 L177.79 368.31 L178.21 366.96 L178.59 365.55 L178.93 364.10 L179.27 362.64 L179.62 361.20 L180.00 359.80 L180.40 358.42 L180.78 357.01 L181.16 355.58 L181.54 354.16 L181.93 352.77 L182.33 351.41 L182.75 350.12 L183.20 348.90 L183.58 347.90 L183.97 346.83 L184.37 345.74 L184.78 344.71 L185.20 343.79 L185.62 343.04 L186.06 342.52 L186.50 342.30 L186.84 342.38 L187.17 342.66 L187.50 343.10 L187.84 343.63 L188.20 344.20 L188.57 344.76 L188.97 345.24 L189.40 345.60 L189.87 345.87 L190.38 346.10 L190.92 346.31 L191.47 346.48 L192.04 346.61 L192.60 346.70 L193.16 346.73 L193.70 346.70 L194.27 346.54 L194.85 346.22 L195.44 345.81 L196.02 345.36 L196.58 344.94 L197.12 344.62 L197.63 344.45 L198.10 344.50 L198.66 345.03 L199.09 346.02 L199.43 347.32 L199.73 348.83 L200.03 350.41 L200.38 351.93 L200.82 353.27 L201.40 354.30 L201.98 354.88 L202.65 355.35 L203.38 355.74 L204.14 356.08 L204.89 356.40 L205.61 356.74 L206.26 357.13 L206.80 357.60 L207.19 358.07 L207.53 358.56 L207.82 359.07 L208.08 359.60 L208.32 360.16 L208.54 360.75 L208.76 361.36 L209.00 362.00 L209.31 362.97 L209.58 364.06 L209.84 365.23 L210.08 366.43 L210.33 367.62 L210.59 368.76 L210.87 369.80 L211.20 370.70 L211.44 371.26 L211.70 371.83 L211.98 372.40 L212.26 372.93 L212.54 373.39 L212.81 373.74 L213.07 373.95 L213.30 374.00 L213.71 373.43 L214.04 372.05 L214.32 370.05 L214.56 367.63 L214.78 364.98 L215.00 362.30 L215.23 359.77 L215.50 357.60 L215.75 355.84 L215.98 354.04 L216.20 352.24 L216.43 350.48 L216.68 348.79 L216.97 347.21 L217.30 345.77 L217.70 344.50 L217.98 343.76 L218.29 343.01 L218.62 342.28 L218.96 341.60 L219.31 341.02 L219.65 340.57 L219.99 340.28 L220.30 340.20 L220.70 340.48 L221.08 341.16 L221.45 342.16 L221.81 343.39 L222.16 344.77 L222.51 346.20 L222.85 347.61 L223.20 348.90 L223.61 350.46 L223.99 352.15 L224.37 353.94 L224.74 355.75 L225.12 357.52 L225.52 359.19 L225.94 360.70 L226.40 362.00 L226.71 362.74 L227.04 363.49 L227.38 364.23 L227.73 364.91 L228.07 365.50 L228.41 365.95 L228.72 366.23 L229.00 366.30 L229.39 365.87 L229.72 364.84 L230.00 363.33 L230.25 361.47 L230.47 359.40 L230.70 357.24 L230.93 355.13 L231.20 353.20 L231.54 350.90 L231.89 348.44 L232.23 345.88 L232.58 343.28 L232.93 340.69 L233.30 338.18 L233.69 335.80 L234.10 333.60 L234.41 331.94 L234.73 330.15 L235.04 328.35 L235.37 326.64 L235.71 325.11 L236.08 323.88 L236.47 323.04 L236.90 322.70 L237.25 322.81 L237.64 323.19 L238.04 323.79 L238.45 324.56 L238.87 325.43 L239.27 326.37 L239.65 327.31 L240.00 328.20 L240.44 329.46 L240.84 330.83 L241.21 332.31 L241.55 333.85 L241.88 335.44 L242.19 337.04 L242.49 338.64 L242.80 340.20 L243.10 341.79 L243.38 343.38 L243.65 344.99 L243.90 346.60 L244.15 348.22 L244.42 349.87 L244.70 351.52 L245.00 353.20 L245.36 355.09 L245.73 357.04 L246.12 359.04 L246.52 361.05 L246.94 363.03 L247.35 364.96 L247.78 366.79 L248.20 368.50 L248.51 369.75 L248.81 371.00 L249.11 372.23 L249.42 373.41 L249.74 374.51 L250.08 375.53 L250.47 376.43 L250.90 377.20 L251.19 377.59 L251.50 377.92 L251.82 378.20 L252.15 378.45 L252.49 378.68 L252.83 378.91 L253.17 379.14 L253.50 379.40 L253.83 379.72 L254.17 380.09 L254.51 380.49 L254.86 380.88 L255.19 381.22 L255.51 381.47 L255.82 381.61 L256.10 381.60 L256.64 380.90 L257.05 379.39 L257.37 377.27 L257.63 374.72 L257.86 371.94 L258.09 369.11 L258.36 366.44 L258.70 364.10 L259.07 362.13 L259.45 360.16 L259.85 358.20 L260.26 356.26 L260.68 354.35 L261.11 352.49 L261.55 350.67 L262.00 348.90 L262.38 347.42 L262.77 345.94 L263.16 344.49 L263.55 343.08 L263.96 341.71 L264.39 340.39 L264.83 339.16 L265.30 338.00 L265.66 337.14 L266.03 336.25 L266.41 335.36 L266.79 334.53 L267.19 333.78 L267.61 333.17 L268.04 332.73 L268.50 332.50 L268.89 332.48 L269.30 332.57 L269.73 332.77 L270.17 333.05 L270.60 333.40 L271.03 333.81 L271.43 334.24 L271.80 334.70 L272.34 335.54 L272.82 336.57 L273.26 337.74 L273.66 339.02 L274.03 340.37 L274.39 341.76 L274.74 343.15 L275.10 344.50 L275.50 346.03 L275.88 347.60 L276.24 349.21 L276.59 350.85 L276.92 352.52 L277.25 354.20 L277.57 355.90 L277.90 357.60 L278.24 359.50 L278.56 361.49 L278.87 363.54 L279.17 365.59 L279.48 367.59 L279.80 369.51 L280.14 371.30 L280.50 372.90 L280.75 373.94 L280.99 375.01 L281.23 376.08 L281.48 377.09 L281.74 377.97 L282.03 378.69 L282.35 379.18 L282.70 379.40 L283.06 379.33 L283.46 379.03 L283.88 378.56 L284.32 377.95 L284.77 377.24 L285.20 376.49 L285.62 375.73 L286.00 375.00 L286.47 373.85 L286.91 372.39 L287.32 370.78 L287.71 369.14 L288.08 367.62 L288.45 366.36 L288.82 365.51 L289.20 365.20 L289.63 365.54 L290.05 366.47 L290.48 367.85 L290.89 369.56 L291.31 371.48 L291.71 373.47 L292.11 375.42 L292.50 377.20 L292.95 379.27 L293.37 381.51 L293.79 383.83 L294.19 386.19 L294.59 388.52 L294.99 390.76 L295.39 392.84 L295.80 394.70 L296.07 395.91 L296.34 397.18 L296.61 398.45 L296.88 399.65 L297.15 400.70 L297.42 401.54 L297.71 402.09 L298.00 402.30 L298.31 402.11 L298.64 401.58 L298.98 400.76 L299.32 399.72 L299.66 398.53 L299.99 397.25 L300.31 395.96 L300.60 394.70 L301.02 392.45 L301.38 389.79 L301.68 386.87 L301.97 383.80 L302.26 380.74 L302.57 377.82 L302.95 375.16 L303.40 372.90 L303.72 371.63 L304.07 370.31 L304.44 369.02 L304.82 367.82 L305.21 366.77 L305.59 365.94 L305.95 365.40 L306.30 365.20 L306.58 365.35 L306.86 365.76 L307.13 366.39 L307.39 367.16 L307.66 368.04 L307.91 368.96 L308.16 369.86 L308.40 370.70 L308.69 371.74 L308.97 372.85 L309.24 374.01 L309.49 375.20 L309.75 376.41 L309.99 377.63 L310.25 378.83 L310.50 380.00 L310.75 381.17 L310.99 382.38 L311.23 383.61 L311.47 384.82 L311.71 386.00 L311.96 387.11 L312.22 388.12 L312.50 389.00 L312.68 389.51 L312.86 390.03 L313.05 390.53 L313.24 391.01 L313.43 391.41 L313.62 391.73 L313.81 391.94 L314.00 392.00 L314.30 391.77 L314.61 391.19 L314.93 390.31 L315.24 389.21 L315.55 387.96 L315.85 386.63 L316.13 385.29 L316.40 384.00 L316.78 381.90 L317.11 379.50 L317.41 376.90 L317.69 374.18 L317.96 371.45 L318.22 368.78 L318.50 366.26 L318.80 364.00 L319.00 362.42 L319.16 360.82 L319.30 359.24 L319.46 357.73 L319.65 356.34 L319.90 355.10 L320.24 354.08 L320.70 353.30 L321.00 352.99 L321.33 352.73 L321.69 352.52 L322.07 352.37 L322.46 352.26 L322.85 352.20 L323.23 352.18 L323.60 352.20 L324.00 352.31 L324.41 352.52 L324.81 352.80 L325.21 353.13 L325.61 353.49 L326.01 353.83 L326.41 354.15 L326.80 354.40 L327.13 354.60 L327.47 354.81 L327.80 355.03 L328.13 355.22 L328.46 355.39 L328.78 355.50 L329.10 355.54 L329.40 355.50 L329.80 355.28 L330.17 354.88 L330.53 354.35 L330.88 353.72 L331.22 353.04 L331.57 352.35 L331.93 351.69 L332.30 351.10 L332.70 350.55 L333.10 349.99 L333.52 349.44 L333.93 348.89 L334.35 348.34 L334.77 347.79 L335.19 347.25 L335.60 346.70 L336.01 346.17 L336.42 345.65 L336.83 345.14 L337.24 344.63 L337.65 344.10 L338.05 343.56 L338.43 343.00 L338.80 342.40 L339.20 341.62 L339.56 340.73 L339.91 339.79 L340.24 338.84 L340.58 337.92 L340.93 337.07 L341.30 336.35 L341.70 335.80 L341.95 335.54 L342.22 335.30 L342.49 335.08 L342.77 334.89 L343.05 334.75 L343.32 334.66 L343.57 334.64 L343.80 334.70 L344.22 335.13 L344.57 335.95 L344.87 337.08 L345.13 338.44 L345.35 339.95 L345.57 341.54 L345.78 343.11 L346.00 344.60 L346.28 346.54 L346.53 348.63 L346.76 350.81 L346.96 353.06 L347.16 355.34 L347.36 357.61 L347.57 359.85 L347.80 362.00 L348.02 363.99 L348.25 366.00 L348.47 368.00 L348.70 369.99 L348.94 371.93 L349.18 373.81 L349.44 375.60 L349.70 377.30 L349.89 378.59 L350.07 379.95 L350.25 381.30 L350.44 382.59 L350.64 383.77 L350.88 384.77 L351.16 385.53 L351.50 386.00 L351.65 386.09 L351.80 386.13 L351.96 386.13 L352.13 386.12 L352.30 386.08 L352.47 386.04 L352.64 386.01 L352.80 386.00" fill="none" stroke="#ff0000" stroke-width="2.2" stroke-dasharray="5.2 3.4 1.0 3.6"/>
<path d="M24.40 517.60 L24.73 512.28 L25.05 506.95 L25.38 501.63 L25.71 496.31 L26.03 490.99 L26.36 485.66 L26.68 480.33 L27.00 475.00 L27.32 469.60 L27.64 464.15 L27.97 458.67 L28.29 453.20 L28.60 447.77 L28.91 442.40 L29.21 437.14 L29.50 432.00 L29.74 427.50 L29.97 423.01 L30.18 418.56 L30.40 414.19 L30.61 409.92 L30.83 405.77 L31.06 401.79 L31.30 398.00 L31.49 395.19 L31.69 392.45 L31.88 389.78 L32.09 387.20 L32.30 384.72 L32.52 382.35 L32.75 380.10 L33.00 378.00 L33.17 376.64 L33.32 375.35 L33.47 374.11 L33.64 372.94 L33.82 371.80 L34.03 370.71 L34.29 369.64 L34.60 368.60 L34.92 367.75 L35.30 366.95 L35.70 366.20 L36.13 365.46 L36.57 364.73 L37.00 363.97 L37.42 363.17 L37.80 362.30 L38.24 361.14 L38.65 359.93 L39.04 358.66 L39.43 357.35 L39.80 356.00 L40.17 354.64 L40.53 353.27 L40.90 351.90 L41.30 350.37 L41.68 348.77 L42.05 347.15 L42.42 345.50 L42.79 343.87 L43.17 342.28 L43.57 340.75 L44.00 339.30 L44.36 338.13 L44.71 336.95 L45.07 335.78 L45.44 334.65 L45.83 333.58 L46.25 332.60 L46.70 331.73 L47.20 331.00 L47.55 330.58 L47.91 330.19 L48.28 329.83 L48.66 329.51 L49.06 329.25 L49.47 329.06 L49.88 328.93 L50.30 328.90 L50.85 329.03 L51.43 329.34 L52.03 329.80 L52.64 330.34 L53.25 330.94 L53.85 331.52 L54.44 332.06 L55.00 332.50 L55.43 332.79 L55.86 333.05 L56.28 333.29 L56.69 333.53 L57.09 333.76 L57.50 333.99 L57.90 334.24 L58.30 334.50 L58.71 334.76 L59.13 335.00 L59.55 335.23 L59.97 335.48 L60.38 335.75 L60.77 336.07 L61.15 336.45 L61.50 336.90 L62.06 337.93 L62.54 339.20 L62.96 340.67 L63.34 342.28 L63.69 343.96 L64.05 345.67 L64.41 347.33 L64.80 348.90 L65.20 350.56 L65.59 352.44 L65.97 354.41 L66.36 356.33 L66.75 358.08 L67.17 359.51 L67.62 360.50 L68.10 360.90 L68.48 360.80 L68.89 360.44 L69.33 359.87 L69.77 359.12 L70.20 358.25 L70.63 357.31 L71.03 356.35 L71.40 355.40 L71.94 353.73 L72.40 351.80 L72.81 349.68 L73.18 347.41 L73.53 345.06 L73.87 342.67 L74.22 340.30 L74.60 338.00 L75.01 335.54 L75.41 332.98 L75.81 330.36 L76.20 327.75 L76.60 325.18 L77.01 322.71 L77.45 320.40 L77.90 318.30 L78.23 316.86 L78.57 315.34 L78.91 313.83 L79.26 312.39 L79.62 311.13 L79.98 310.12 L80.34 309.45 L80.70 309.20 L81.03 309.37 L81.36 309.87 L81.71 310.64 L82.05 311.60 L82.39 312.70 L82.71 313.88 L83.02 315.06 L83.30 316.20 L83.68 317.98 L84.00 319.96 L84.29 322.09 L84.54 324.33 L84.78 326.64 L85.01 328.99 L85.25 331.32 L85.50 333.60 L85.78 335.99 L86.06 338.42 L86.34 340.86 L86.61 343.32 L86.88 345.79 L87.15 348.27 L87.43 350.74 L87.70 353.20 L87.98 355.68 L88.26 358.18 L88.54 360.70 L88.82 363.21 L89.10 365.70 L89.37 368.15 L89.64 370.56 L89.90 372.90 L90.12 374.94 L90.32 377.00 L90.51 379.05 L90.70 381.06 L90.90 382.99 L91.11 384.83 L91.34 386.55 L91.60 388.10 L91.78 389.08 L91.98 390.12 L92.18 391.14 L92.39 392.10 L92.60 392.95 L92.81 393.61 L93.01 394.05 L93.20 394.20 L93.50 393.71 L93.78 392.40 L94.05 390.45 L94.31 388.03 L94.56 385.32 L94.81 382.50 L95.06 379.73 L95.30 377.20 L95.60 374.20 L95.88 371.04 L96.15 367.78 L96.42 364.43 L96.69 361.05 L96.95 357.68 L97.22 354.35 L97.50 351.10 L97.76 348.04 L98.01 344.99 L98.26 341.94 L98.51 338.92 L98.78 335.92 L99.06 332.95 L99.36 330.00 L99.70 327.10 L100.00 324.30 L100.27 321.34 L100.53 318.34 L100.82 315.39 L101.17 312.62 L101.62 310.13 L102.18 308.02 L102.90 306.40 L103.32 305.78 L103.79 305.21 L104.31 304.69 L104.83 304.25 L105.36 303.90 L105.86 303.67 L106.31 303.56 L106.70 303.60 L107.08 303.89 L107.39 304.44 L107.65 305.20 L107.86 306.11 L108.05 307.12 L108.23 308.20 L108.40 309.27 L108.60 310.30 L108.88 311.74 L109.14 313.30 L109.38 314.95 L109.60 316.66 L109.83 318.40 L110.05 320.16 L110.27 321.90 L110.50 323.60 L110.74 325.27 L110.98 326.93 L111.22 328.58 L111.46 330.24 L111.70 331.91 L111.93 333.59 L112.17 335.28 L112.40 337.00 L112.64 338.87 L112.88 340.78 L113.11 342.73 L113.34 344.68 L113.57 346.62 L113.81 348.53 L114.05 350.40 L114.30 352.20 L114.51 353.75 L114.69 355.33 L114.88 356.91 L115.06 358.44 L115.28 359.91 L115.53 361.28 L115.83 362.52 L116.20 363.60 L116.47 364.21 L116.77 364.83 L117.08 365.43 L117.42 365.98 L117.75 366.45 L118.09 366.81 L118.40 367.04 L118.70 367.10 L119.02 366.93 L119.34 366.51 L119.64 365.90 L119.94 365.15 L120.22 364.30 L120.49 363.41 L120.75 362.53 L121.00 361.70 L121.30 360.66 L121.56 359.55 L121.81 358.39 L122.03 357.19 L122.25 355.95 L122.46 354.71 L122.68 353.45 L122.90 352.20 L123.15 350.83 L123.39 349.45 L123.63 348.04 L123.87 346.63 L124.11 345.19 L124.34 343.74 L124.57 342.28 L124.80 340.80 L125.04 339.17 L125.28 337.50 L125.52 335.81 L125.75 334.10 L125.98 332.39 L126.22 330.70 L126.46 329.03 L126.70 327.40 L126.92 325.89 L127.13 324.33 L127.33 322.78 L127.55 321.24 L127.77 319.77 L128.01 318.38 L128.29 317.11 L128.60 316.00 L128.80 315.38 L128.99 314.77 L129.18 314.19 L129.38 313.65 L129.61 313.17 L129.86 312.75 L130.16 312.43 L130.50 312.20 L130.89 312.07 L131.35 312.02 L131.85 312.05 L132.37 312.14 L132.90 312.29 L133.41 312.51 L133.88 312.78 L134.30 313.10 L134.83 313.75 L135.28 314.60 L135.66 315.63 L135.99 316.77 L136.30 317.99 L136.59 319.25 L136.88 320.50 L137.20 321.70 L137.58 323.04 L137.94 324.41 L138.29 325.81 L138.64 327.23 L138.98 328.68 L139.32 330.14 L139.66 331.62 L140.00 333.10 L140.37 334.74 L140.73 336.43 L141.09 338.15 L141.45 339.88 L141.80 341.60 L142.17 343.29 L142.53 344.93 L142.90 346.50 L143.21 347.80 L143.50 349.11 L143.79 350.40 L144.09 351.65 L144.39 352.86 L144.73 354.00 L145.09 355.05 L145.50 356.00 L145.81 356.58 L146.13 357.08 L146.47 357.54 L146.82 357.97 L147.17 358.40 L147.54 358.83 L147.92 359.29 L148.30 359.80 L148.82 360.51 L149.39 361.23 L149.99 361.97 L150.59 362.74 L151.18 363.56 L151.74 364.41 L152.26 365.33 L152.70 366.30 L153.17 367.67 L153.53 369.16 L153.82 370.74 L154.06 372.40 L154.26 374.11 L154.45 375.86 L154.66 377.63 L154.90 379.40 L155.21 381.49 L155.51 383.66 L155.81 385.90 L156.11 388.16 L156.40 390.43 L156.70 392.68 L157.00 394.88 L157.30 397.00 L157.56 398.87 L157.82 400.76 L158.07 402.63 L158.33 404.48 L158.59 406.26 L158.87 407.96 L159.17 409.55 L159.50 411.00 L159.74 411.96 L159.99 412.97 L160.26 413.98 L160.53 414.93 L160.81 415.76 L161.08 416.42 L161.34 416.85 L161.60 417.00 L161.87 416.81 L162.13 416.30 L162.39 415.53 L162.64 414.57 L162.89 413.47 L163.14 412.30 L163.37 411.12 L163.60 410.00 L163.92 408.22 L164.22 406.23 L164.49 404.08 L164.75 401.83 L165.00 399.54 L165.25 397.26 L165.52 395.07 L165.80 393.00 L166.06 391.26 L166.32 389.53 L166.58 387.81 L166.85 386.13 L167.12 384.50 L167.40 382.92 L167.70 381.42 L168.00 380.00 L168.22 379.00 L168.43 378.04 L168.64 377.12 L168.86 376.23 L169.09 375.38 L169.35 374.56 L169.65 373.76 L170.00 373.00 L170.35 372.38 L170.74 371.81 L171.16 371.28 L171.61 370.77 L172.06 370.25 L172.52 369.72 L172.97 369.14 L173.40 368.50 L173.96 367.57 L174.54 366.58 L175.11 365.53 L175.69 364.43 L176.25 363.30 L176.79 362.14 L177.31 360.97 L177.80 359.80 L178.27 358.49 L178.68 357.11 L179.06 355.68 L179.42 354.24 L179.78 352.82 L180.17 351.43 L180.60 350.12 L181.10 348.90 L181.57 347.89 L182.07 346.83 L182.59 345.76 L183.14 344.75 L183.70 343.85 L184.26 343.10 L184.83 342.57 L185.40 342.30 L185.81 342.30 L186.22 342.43 L186.65 342.67 L187.07 342.98 L187.50 343.36 L187.91 343.75 L188.32 344.14 L188.70 344.50 L189.08 344.91 L189.43 345.40 L189.76 345.94 L190.09 346.48 L190.42 346.98 L190.76 347.40 L191.12 347.68 L191.50 347.80 L192.00 347.67 L192.53 347.30 L193.08 346.74 L193.65 346.06 L194.22 345.32 L194.79 344.59 L195.36 343.92 L195.90 343.40 L196.33 343.03 L196.76 342.62 L197.19 342.21 L197.62 341.84 L198.04 341.52 L198.45 341.28 L198.83 341.17 L199.20 341.20 L199.69 341.61 L200.11 342.43 L200.48 343.54 L200.81 344.85 L201.15 346.25 L201.51 347.65 L201.92 348.93 L202.40 350.00 L202.89 350.77 L203.42 351.47 L203.99 352.13 L204.58 352.76 L205.17 353.39 L205.75 354.03 L206.30 354.69 L206.80 355.40 L207.28 356.17 L207.74 356.97 L208.17 357.79 L208.59 358.63 L208.99 359.47 L209.38 360.32 L209.75 361.16 L210.10 362.00 L210.42 362.90 L210.72 363.92 L211.00 365.00 L211.27 366.06 L211.52 367.01 L211.78 367.79 L212.04 368.31 L212.30 368.50 L212.57 368.33 L212.85 367.87 L213.12 367.18 L213.39 366.29 L213.66 365.28 L213.92 364.19 L214.17 363.08 L214.40 362.00 L214.75 360.02 L215.03 357.72 L215.28 355.19 L215.51 352.52 L215.73 349.80 L215.97 347.13 L216.26 344.60 L216.60 342.30 L216.91 340.49 L217.24 338.53 L217.59 336.54 L217.95 334.63 L218.32 332.94 L218.71 331.57 L219.10 330.65 L219.50 330.30 L219.81 330.46 L220.14 330.95 L220.48 331.69 L220.83 332.62 L221.17 333.67 L221.50 334.78 L221.81 335.88 L222.10 336.90 L222.43 338.22 L222.72 339.65 L222.98 341.15 L223.21 342.71 L223.45 344.29 L223.70 345.86 L223.98 347.41 L224.30 348.90 L224.64 350.44 L224.99 352.16 L225.36 353.95 L225.75 355.69 L226.15 357.27 L226.58 358.55 L227.03 359.44 L227.50 359.80 L227.89 359.70 L228.31 359.33 L228.75 358.74 L229.19 357.98 L229.64 357.11 L230.06 356.17 L230.45 355.22 L230.80 354.30 L231.23 352.89 L231.58 351.31 L231.86 349.60 L232.10 347.79 L232.31 345.91 L232.52 344.00 L232.74 342.08 L233.00 340.20 L233.31 338.08 L233.62 335.88 L233.93 333.63 L234.24 331.36 L234.56 329.10 L234.89 326.88 L235.23 324.74 L235.60 322.70 L235.90 321.03 L236.19 319.34 L236.47 317.67 L236.77 316.04 L237.09 314.49 L237.46 313.07 L237.89 311.79 L238.40 310.70 L238.76 310.09 L239.15 309.49 L239.56 308.92 L239.99 308.41 L240.43 307.98 L240.86 307.66 L241.29 307.45 L241.70 307.40 L242.13 307.53 L242.57 307.83 L243.00 308.29 L243.43 308.86 L243.85 309.53 L244.26 310.26 L244.64 311.03 L245.00 311.80 L245.55 313.23 L246.03 314.90 L246.47 316.76 L246.85 318.76 L247.21 320.85 L247.55 322.97 L247.87 325.07 L248.20 327.10 L248.53 329.23 L248.84 331.41 L249.11 333.62 L249.37 335.84 L249.63 338.06 L249.88 340.26 L250.13 342.41 L250.40 344.50 L250.65 346.33 L250.89 348.13 L251.14 349.90 L251.38 351.65 L251.63 353.38 L251.88 355.09 L252.14 356.80 L252.40 358.50 L252.65 360.13 L252.89 361.78 L253.14 363.44 L253.39 365.08 L253.64 366.67 L253.91 368.21 L254.20 369.66 L254.50 371.00 L254.73 371.97 L254.97 373.01 L255.22 374.04 L255.47 375.03 L255.73 375.89 L255.99 376.59 L256.24 377.04 L256.50 377.20 L256.84 376.89 L257.18 376.07 L257.53 374.84 L257.88 373.31 L258.22 371.58 L258.56 369.76 L258.89 367.97 L259.20 366.30 L259.59 364.14 L259.97 361.84 L260.32 359.43 L260.66 356.93 L261.00 354.38 L261.33 351.81 L261.66 349.24 L262.00 346.70 L262.36 344.01 L262.71 341.28 L263.06 338.51 L263.40 335.72 L263.75 332.95 L264.10 330.21 L264.45 327.52 L264.80 324.90 L265.11 322.54 L265.39 320.10 L265.68 317.66 L265.96 315.27 L266.27 312.98 L266.60 310.87 L266.97 308.99 L267.40 307.40 L267.64 306.65 L267.89 305.89 L268.15 305.17 L268.42 304.52 L268.70 303.95 L268.99 303.51 L269.29 303.21 L269.60 303.10 L269.98 303.22 L270.39 303.59 L270.83 304.16 L271.27 304.89 L271.71 305.73 L272.14 306.64 L272.54 307.58 L272.90 308.50 L273.40 310.08 L273.83 311.88 L274.20 313.85 L274.53 315.96 L274.83 318.16 L275.11 320.41 L275.40 322.67 L275.70 324.90 L276.05 327.49 L276.39 330.19 L276.70 332.95 L277.01 335.76 L277.32 338.57 L277.63 341.35 L277.96 344.07 L278.30 346.70 L278.61 349.01 L278.92 351.31 L279.24 353.59 L279.56 355.84 L279.89 358.03 L280.24 360.15 L280.61 362.18 L281.00 364.10 L281.32 365.61 L281.66 367.25 L282.00 368.90 L282.36 370.47 L282.72 371.87 L283.09 372.99 L283.45 373.73 L283.80 374.00 L284.16 373.73 L284.52 372.99 L284.89 371.87 L285.26 370.47 L285.62 368.90 L285.97 367.25 L286.30 365.62 L286.60 364.10 L286.95 362.14 L287.24 360.01 L287.49 357.76 L287.73 355.46 L287.96 353.14 L288.21 350.87 L288.48 348.71 L288.80 346.70 L289.07 345.17 L289.33 343.64 L289.60 342.15 L289.88 340.70 L290.19 339.32 L290.54 338.03 L290.94 336.85 L291.40 335.80 L291.75 335.14 L292.12 334.48 L292.52 333.85 L292.93 333.28 L293.36 332.77 L293.80 332.36 L294.25 332.06 L294.70 331.90 L295.09 331.88 L295.49 331.95 L295.89 332.11 L296.31 332.33 L296.72 332.61 L297.15 332.92 L297.57 333.26 L298.00 333.60 L298.68 334.17 L299.40 334.83 L300.14 335.57 L300.89 336.39 L301.62 337.27 L302.31 338.20 L302.94 339.18 L303.50 340.20 L304.07 341.55 L304.55 343.02 L304.94 344.60 L305.27 346.24 L305.56 347.93 L305.83 349.63 L306.10 351.33 L306.40 353.00 L306.71 354.73 L307.00 356.48 L307.27 358.26 L307.52 360.05 L307.78 361.82 L308.04 363.58 L308.31 365.31 L308.60 367.00 L308.88 368.52 L309.15 370.04 L309.44 371.55 L309.73 373.04 L310.02 374.49 L310.33 375.89 L310.66 377.23 L311.00 378.50 L311.28 379.50 L311.57 380.58 L311.88 381.67 L312.19 382.70 L312.50 383.62 L312.81 384.35 L313.11 384.83 L313.40 385.00 L313.73 384.74 L314.05 384.06 L314.37 383.05 L314.68 381.78 L314.98 380.36 L315.27 378.86 L315.55 377.38 L315.80 376.00 L316.10 374.23 L316.35 372.34 L316.57 370.36 L316.77 368.31 L316.97 366.22 L317.16 364.13 L317.37 362.04 L317.60 360.00 L317.81 357.82 L317.95 355.44 L318.07 352.99 L318.21 350.57 L318.41 348.30 L318.71 346.28 L319.16 344.65 L319.80 343.50 L320.20 343.11 L320.66 342.78 L321.16 342.52 L321.68 342.34 L322.21 342.23 L322.71 342.20 L323.19 342.25 L323.60 342.40 L324.09 342.85 L324.51 343.59 L324.85 344.56 L325.16 345.67 L325.45 346.84 L325.74 348.01 L326.05 349.09 L326.40 350.00 L326.70 350.67 L327.01 351.37 L327.32 352.07 L327.64 352.73 L327.96 353.33 L328.29 353.83 L328.64 354.20 L329.00 354.40 L329.26 354.44 L329.53 354.41 L329.81 354.31 L330.09 354.17 L330.37 353.99 L330.65 353.78 L330.93 353.55 L331.20 353.30 L331.63 352.83 L332.04 352.23 L332.45 351.54 L332.86 350.79 L333.26 350.00 L333.67 349.22 L334.08 348.48 L334.50 347.80 L334.90 347.23 L335.30 346.70 L335.72 346.17 L336.13 345.66 L336.54 345.14 L336.94 344.62 L337.33 344.07 L337.70 343.50 L338.07 342.85 L338.43 342.15 L338.77 341.44 L339.10 340.71 L339.43 339.99 L339.75 339.29 L340.07 338.62 L340.40 338.00 L340.66 337.50 L340.93 336.95 L341.19 336.40 L341.45 335.88 L341.71 335.41 L341.97 335.04 L342.23 334.79 L342.50 334.70 L342.78 334.78 L343.06 334.99 L343.36 335.33 L343.65 335.76 L343.93 336.27 L344.21 336.83 L344.47 337.41 L344.70 338.00 L345.06 339.19 L345.36 340.61 L345.59 342.20 L345.79 343.91 L345.97 345.71 L346.13 347.54 L346.30 349.35 L346.50 351.10 L346.73 352.96 L346.94 354.87 L347.16 356.80 L347.37 358.75 L347.58 360.70 L347.79 362.63 L347.99 364.54 L348.20 366.40 L348.38 368.12 L348.56 369.86 L348.73 371.59 L348.90 373.30 L349.08 374.97 L349.27 376.58 L349.47 378.09 L349.70 379.50 L349.87 380.45 L350.04 381.38 L350.22 382.29 L350.41 383.15 L350.60 383.96 L350.82 384.71 L351.05 385.40 L351.30 386.00 L351.47 386.32 L351.65 386.61 L351.83 386.86 L352.03 387.09 L352.22 387.32 L352.42 387.54 L352.61 387.76 L352.80 388.00" fill="none" stroke="#00ff00" stroke-width="2.4" stroke-dasharray="3.6 7.0" stroke-linecap="round"/>
<path d="M24.20 408.80 L24.63 409.84 L25.07 411.30 L25.50 413.10 L25.93 415.20 L26.37 417.52 L26.80 420.00 L27.18 422.53 L27.57 425.58 L27.95 429.01 L28.33 432.72 L28.72 436.59 L29.10 440.50 L29.48 444.58 L29.87 448.95 L30.25 453.54 L30.63 458.25 L31.02 463.00 L31.40 467.70 L31.77 472.19 L32.13 476.75 L32.50 481.34 L32.87 485.94 L33.23 490.50 L33.60 495.00 L33.92 498.83 L34.23 502.64 L34.55 506.41 L34.87 510.17 L35.18 513.90 L35.50 517.60 L58.10 517.60 L58.43 517.30 L58.77 516.84 L59.10 516.24 L59.43 515.54 L59.77 514.75 L60.10 513.90 L60.45 512.83 L60.80 511.47 L61.15 509.91 L61.50 508.21 L61.85 506.45 L62.20 504.70 L62.53 502.97 L62.87 501.11 L63.20 499.17 L63.53 497.22 L63.87 495.31 L64.20 493.50 L64.55 491.68 L64.90 489.87 L65.25 488.11 L65.60 486.41 L65.95 484.80 L66.30 483.30 L66.63 481.90 L66.97 480.47 L67.30 479.11 L67.63 477.88 L67.97 476.89 L68.30 476.20 L68.67 475.66 L69.03 475.16 L69.40 474.73 L69.77 474.40 L70.13 474.18 L70.50 474.10 L70.82 474.16 L71.13 474.32 L71.45 474.57 L71.77 474.89 L72.08 475.27 L72.40 475.70 L72.65 476.20 L72.90 476.95 L73.15 477.90 L73.40 478.98 L73.65 480.13 L73.90 481.30 L74.15 482.55 L74.40 483.97 L74.65 485.51 L74.90 487.13 L75.15 488.77 L75.40 490.40 L75.65 492.04 L75.90 493.74 L76.15 495.47 L76.40 497.21 L76.65 498.92 L76.90 500.60 L77.17 502.35 L77.43 504.10 L77.70 505.82 L77.97 507.52 L78.23 509.18 L78.50 510.80 L78.70 511.99 L78.90 513.15 L79.10 514.29 L79.30 515.42 L79.50 516.52 L79.70 517.60 L106.80 517.60 L107.17 514.67 L107.53 511.73 L107.90 508.80 L108.27 505.87 L108.63 502.93 L109.00 500.00 L109.33 497.26 L109.67 494.45 L110.00 491.63 L110.33 488.89 L110.67 486.32 L111.00 484.00 L111.33 481.78 L111.67 479.56 L112.00 477.46 L112.33 475.58 L112.67 474.06 L113.00 473.00 L113.47 471.94 L113.93 470.99 L114.40 470.18 L114.87 469.55 L115.33 469.14 L115.80 469.00 L116.22 469.14 L116.63 469.52 L117.05 470.10 L117.47 470.82 L117.88 471.64 L118.30 472.50 L118.67 473.43 L119.03 474.66 L119.40 476.11 L119.77 477.69 L120.13 479.35 L120.50 481.00 L120.92 482.94 L121.33 485.04 L121.75 487.25 L122.17 489.52 L122.58 491.79 L123.00 494.00 L123.38 496.00 L123.77 498.01 L124.15 500.02 L124.53 502.03 L124.92 504.02 L125.30 506.00 L125.68 507.96 L126.07 509.91 L126.45 511.85 L126.83 513.78 L127.22 515.69 L127.60 517.60 L148.40 517.60 L148.83 514.99 L149.27 512.20 L149.70 509.23 L150.13 506.10 L150.57 502.82 L151.00 499.40 L151.43 495.71 L151.87 491.70 L152.30 487.49 L152.73 483.20 L153.17 478.96 L153.60 474.90 L154.03 470.94 L154.47 466.96 L154.90 463.02 L155.33 459.21 L155.77 455.58 L156.20 452.20 L156.65 448.77 L157.10 445.29 L157.55 441.96 L158.00 438.97 L158.45 436.48 L158.90 434.70 L159.25 433.64 L159.60 432.64 L159.95 431.75 L160.30 431.04 L160.65 430.57 L161.00 430.40 L161.37 430.54 L161.73 430.91 L162.10 431.48 L162.47 432.20 L162.83 433.02 L163.20 433.90 L163.65 435.33 L164.10 437.35 L164.55 439.84 L165.00 442.64 L165.45 445.64 L165.90 448.70 L166.33 451.88 L166.77 455.47 L167.20 459.35 L167.63 463.40 L168.07 467.49 L168.50 471.50 L168.93 475.59 L169.37 479.90 L169.80 484.25 L170.23 488.48 L170.67 492.42 L171.10 495.90 L171.53 499.09 L171.97 502.20 L172.40 505.12 L172.83 507.75 L173.27 509.98 L173.70 511.70 L174.13 513.11 L174.57 514.43 L175.00 515.61 L175.43 516.57 L175.87 517.25 L176.30 517.60 L199.90 517.60 L200.45 515.89 L201.00 514.09 L201.55 512.19 L202.10 510.20 L202.65 508.13 L203.20 506.00 L203.65 504.12 L204.10 502.09 L204.55 499.98 L205.00 497.87 L205.45 495.85 L205.90 494.00 L206.27 492.54 L206.63 491.07 L207.00 489.64 L207.37 488.34 L207.73 487.23 L208.10 486.40 L208.55 485.58 L209.00 484.81 L209.45 484.13 L209.90 483.59 L210.35 483.23 L210.80 483.10 L211.27 483.21 L211.73 483.54 L212.20 484.05 L212.67 484.72 L213.13 485.51 L213.60 486.40 L213.87 487.15 L214.13 488.26 L214.40 489.61 L214.67 491.09 L214.93 492.59 L215.20 494.00 L215.48 495.45 L215.77 496.96 L216.05 498.49 L216.33 500.00 L216.62 501.45 L216.90 502.80 L217.17 504.03 L217.43 505.28 L217.70 506.48 L217.97 507.58 L218.23 508.54 L218.50 509.30 L218.95 510.30 L219.40 511.16 L219.85 511.91 L220.30 512.56 L220.75 513.15 L221.20 513.70 L221.67 514.24 L222.13 514.73 L222.60 515.18 L223.07 515.61 L223.53 516.01 L224.00 516.40 L224.27 516.62 L224.53 516.83 L224.80 517.03 L225.07 517.23 L225.33 517.42 L225.60 517.60 L244.30 517.60 L244.68 515.68 L245.07 513.75 L245.45 511.82 L245.83 509.89 L246.22 507.95 L246.60 506.00 L247.00 503.94 L247.40 501.84 L247.80 499.73 L248.20 497.65 L248.60 495.63 L249.00 493.70 L249.40 491.81 L249.80 489.93 L250.20 488.10 L250.60 486.36 L251.00 484.74 L251.40 483.30 L251.72 482.22 L252.03 481.14 L252.35 480.13 L252.67 479.23 L252.98 478.50 L253.30 478.00 L253.62 477.64 L253.93 477.31 L254.25 477.02 L254.57 476.80 L254.88 476.65 L255.20 476.60 L255.50 476.66 L255.80 476.81 L256.10 477.04 L256.40 477.33 L256.70 477.66 L257.00 478.00 L257.32 478.44 L257.63 479.03 L257.95 479.74 L258.27 480.53 L258.58 481.40 L258.90 482.30 L259.22 483.32 L259.53 484.50 L259.85 485.80 L260.17 487.17 L260.48 488.55 L260.80 489.90 L261.20 491.57 L261.60 493.25 L262.00 494.95 L262.40 496.69 L262.80 498.47 L263.20 500.30 L263.52 501.83 L263.83 503.44 L264.15 505.08 L264.47 506.72 L264.78 508.31 L265.10 509.80 L265.42 511.21 L265.73 512.58 L266.05 513.90 L266.37 515.18 L266.68 516.42 L267.00 517.60 L285.90 517.60 L286.35 516.98 L286.80 516.18 L287.25 515.25 L287.70 514.19 L288.15 513.03 L288.60 511.80 L289.03 510.45 L289.47 508.86 L289.90 507.09 L290.33 505.21 L290.77 503.26 L291.20 501.30 L291.63 499.29 L292.07 497.17 L292.50 494.97 L292.93 492.72 L293.37 490.45 L293.80 488.20 L294.13 486.41 L294.47 484.53 L294.80 482.64 L295.13 480.81 L295.47 479.14 L295.80 477.70 L296.12 476.41 L296.43 475.07 L296.75 473.83 L297.07 472.78 L297.38 472.07 L297.70 471.80 L298.03 471.85 L298.37 471.98 L298.70 472.19 L299.03 472.45 L299.37 472.76 L299.70 473.10 L300.03 473.60 L300.37 474.36 L300.70 475.30 L301.03 476.33 L301.37 477.39 L301.70 478.40 L302.02 479.36 L302.33 480.40 L302.65 481.46 L302.97 482.50 L303.28 483.46 L303.60 484.30 L303.93 485.10 L304.27 485.88 L304.60 486.61 L304.93 487.26 L305.27 487.80 L305.60 488.20 L306.03 488.61 L306.47 488.98 L306.90 489.31 L307.33 489.57 L307.77 489.74 L308.20 489.80 L308.75 489.80 L309.30 489.80 L309.85 489.80 L310.40 489.80 L310.95 489.80 L311.50 489.80 L311.93 489.87 L312.37 490.05 L312.80 490.32 L313.23 490.67 L313.67 491.07 L314.10 491.50 L314.55 492.09 L315.00 492.92 L315.45 493.93 L315.90 495.05 L316.35 496.23 L316.80 497.40 L317.23 498.56 L317.67 499.82 L318.10 501.15 L318.53 502.53 L318.97 503.92 L319.40 505.30 L319.83 506.73 L320.27 508.26 L320.70 509.80 L321.13 511.29 L321.57 512.64 L322.00 513.80 L322.33 514.57 L322.67 515.30 L323.00 515.97 L323.33 516.58 L323.67 517.13 L324.00 517.60 L342.50 517.60 L343.05 514.82 L343.60 512.12 L344.15 509.48 L344.70 506.91 L345.25 504.42 L345.80 502.00 L346.30 499.77 L346.80 497.49 L347.30 495.26 L347.80 493.20 L348.30 491.41 L348.80 490.00 L349.08 489.36 L349.37 488.79 L349.65 488.28 L349.93 487.81 L350.22 487.39 L350.50 487.00 L350.73 486.70 L350.97 486.42 L351.20 486.15 L351.43 485.91 L351.67 485.69 L351.90 485.50" fill="none" stroke="#0000ff" stroke-width="2.2" stroke-linejoin="round"/>
<line x1="294.2" y1="473.9" x2="324.6" y2="473.9" stroke="#ff0000" stroke-width="2.2" stroke-dasharray="0.9 3.9 6.2 3.5"/>
<line x1="295.9" y1="484.6" x2="324" y2="484.6" stroke="#00ff00" stroke-width="2.4" stroke-dasharray="3.8 8.1" stroke-linecap="round"/>
<line x1="298.8" y1="495.5" x2="324" y2="495.5" stroke="#ff62ff" stroke-width="3.0" stroke-dasharray="1.1 3.5"/>
<line x1="295.1" y1="506.4" x2="324.6" y2="506.4" stroke="#0000ff" stroke-width="2.2"/>
<text x="328.2" y="477.2" class="lg">UR</text>
<text x="328.2" y="487.9" class="lg">UL</text>
<text x="328.2" y="498.8" class="lg">EP</text>
<text x="328.2" y="509.7" class="lg">NE</text>
<text x="175.2" y="542.0" class="xl"><tspan class="gr">λ</tspan><tspan x="185.6">t/</tspan><tspan class="pi" x="193">π</tspan></text>
<text x="25.6" y="287.6" class="pl">(b)</text>
</svg>
</body></html>
